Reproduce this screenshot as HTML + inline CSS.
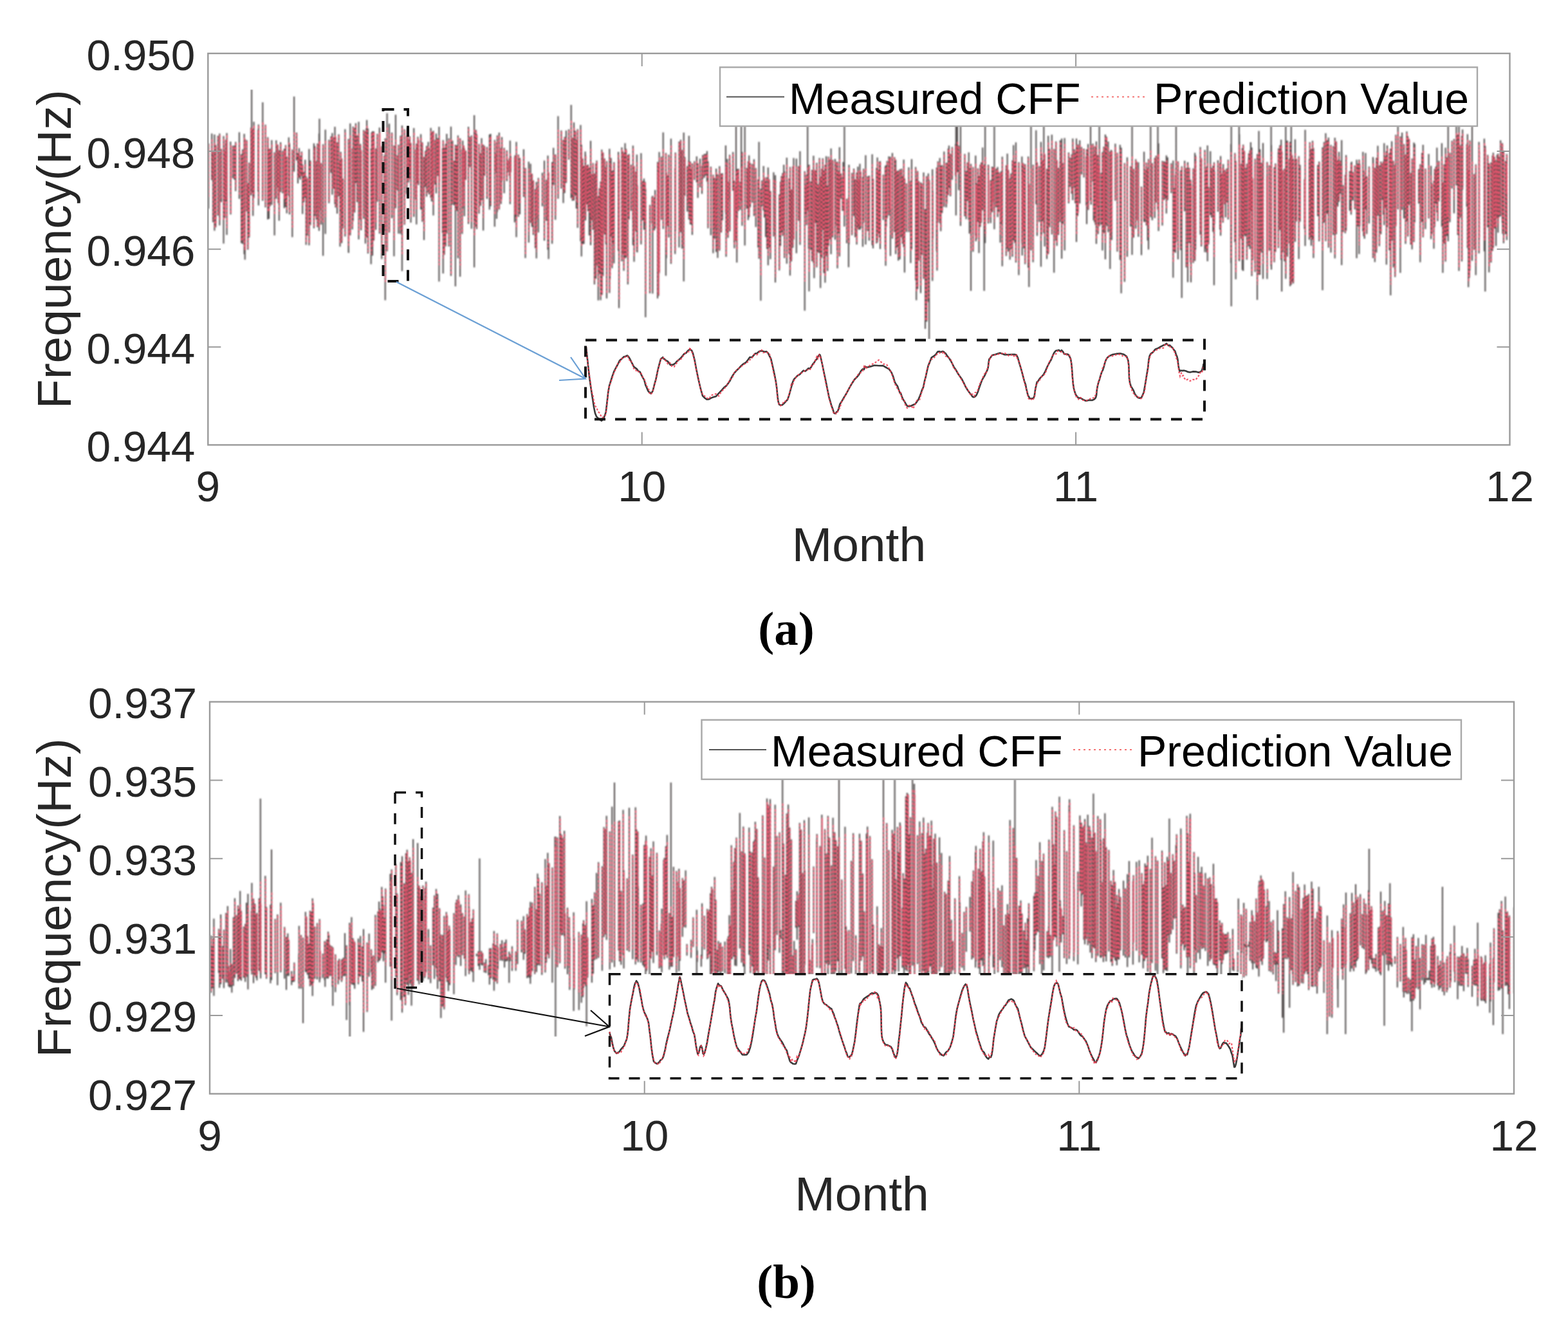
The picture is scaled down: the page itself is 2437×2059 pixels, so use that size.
<!DOCTYPE html>
<html><head><meta charset="utf-8"><title>Measured CFF vs Prediction Value</title><style>
html,body{margin:0;padding:0;background:#fff;}
svg{display:block;}
.tk{font-family:'Liberation Sans', Arial, Helvetica, sans-serif;font-size:67.5px;fill:#262626;}
.lab{font-family:'Liberation Sans', Arial, Helvetica, sans-serif;font-size:75px;fill:#262626;}
.lg{font-family:'Liberation Sans', Arial, Helvetica, sans-serif;font-size:68px;fill:#000;}
.blk{fill:none;stroke:#404040;stroke-width:2.8;stroke-linejoin:round;}
.red{fill:none;stroke:#ee3a55;stroke-width:2.6;stroke-dasharray:3.6 2.6;}
.iblk{fill:none;stroke:#3a3a3a;stroke-width:2.6;stroke-linejoin:round;}
.ired{fill:none;stroke:#f03c50;stroke-width:2.2;stroke-dasharray:3 2.5;opacity:.85;}
.thin{fill:none;stroke:#3c3c3c;stroke-width:2;}
.core{fill:none;stroke:#6c6464;}
.redc{fill:none;stroke:#f2506c;stroke-dasharray:3.3 3.1;}
.sblk{fill:none;stroke:#524e4e;stroke-width:2.1;}
.sred{fill:none;stroke:#f25470;stroke-width:2.0;stroke-dasharray:3.2 3.2;}
.cap{font-family:'Liberation Serif', 'Times New Roman', serif;font-size:75px;font-weight:bold;fill:#000;}
</style></head>
<body><svg width="2437" height="2059" viewBox="0 0 2437 2059">
<rect width="2437" height="2059" fill="#fff"/>
<defs><clipPath id="ca"><rect x="323.3" y="83.0" width="2023.2" height="608.4"/></clipPath><filter id="soft" x="0" y="0" width="1" height="1"><feGaussianBlur stdDeviation="1.25"/></filter><clipPath id="cb"><rect x="326.0" y="1090.6" width="2027.0" height="609.1000000000001"/></clipPath></defs>
<g clip-path="url(#ca)"><g filter="url(#soft)"><path d="M323.9 222.9V324.2M329.2 207.6V279.7M331.0 235.8V345.3M333.4 209.0V358.4M335.2 225.5V353.3M338.7 211.1V335.1M341.3 207.5V350.2M343.9 231.5V313.9M347.5 211.4V378.4M347.9 226.2V328.9M349.3 234.6V338.7M350.8 217.6V313.1M352.5 206.8V364.9M358.5 235.1V333.2M358.3 220.0V304.7M361.8 226.4V277.1M364.3 226.2V279.1M366.2 220.4V296.9M371.9 205.6V309.1M375.1 239.8V377.7M377.1 232.3V378.9M379.6 208.0V394.9M380.7 216.1V403.6M383.5 217.7V328.2M385.2 284.7V388.0M387.2 252.7V368.9M390.1 198.5V303.5M391.1 139.0V299.2M393.2 200.4V335.5M394.5 189.3V308.1M401.2 201.7V297.2M401.8 193.6V319.3M408.3 159.0V303.8M408.2 186.5V312.0M412.5 193.7V322.2M416.2 213.3V340.9M416.3 224.6V315.7M418.0 231.6V340.1M419.8 231.2V320.5M422.3 217.7V318.3M426.6 236.8V365.8M429.3 218.0V308.8M431.6 224.7V291.6M432.5 243.4V315.4M433.8 233.4V342.9M436.1 220.9V298.4M439.3 234.4V300.3M441.8 234.0V323.4M441.8 231.3V311.6M443.9 225.5V321.6M445.7 243.4V331.6M448.8 213.5V304.0M450.0 222.4V333.3M454.3 232.4V368.4M457.1 150.0V266.8M460.9 206.0V249.3M463.0 237.9V284.9M464.9 230.3V276.1M466.6 242.3V279.0M468.8 235.6V273.4M470.2 255.8V332.6M472.1 267.6V314.2M474.3 248.2V307.0M475.7 273.9V380.5M477.4 276.7V366.0M480.4 231.5V381.2M482.3 249.4V349.7M487.9 222.8V354.8M489.3 227.3V335.5M491.8 250.6V341.3M493.4 223.0V352.9M495.9 207.6V358.7M496.5 184.4V327.4M499.1 253.6V349.0M502.1 224.3V397.6M505.7 201.4V363.6M511.3 217.2V315.8M514.5 212.1V268.6M516.4 206.7V302.6M518.9 213.4V293.1M520.5 197.0V317.1M521.5 212.4V322.4M524.0 221.3V332.0M526.5 208.8V304.9M528.5 249.4V383.2M529.6 235.9V328.2M531.1 246.3V377.8M532.8 277.7V355.1M536.3 200.8V367.4M541.8 226.7V393.1M541.6 215.9V391.8M544.3 191.7V365.8M547.6 230.9V356.6M548.7 196.8V343.6M551.2 198.7V330.3M552.9 191.4V284.3M555.1 210.4V314.1M557.5 189.3V372.1M560.1 223.8V340.9M561.2 233.1V357.8M565.2 202.1V339.8M567.9 204.1V378.4M569.2 199.7V295.2M570.1 186.5V368.8M571.9 199.7V394.0M576.7 231.1V410.6M577.6 205.8V358.7M579.0 204.0V397.2M581.0 218.7V373.7M580.9 204.2V358.3M584.1 230.7V356.9M586.4 207.9V313.4M589.8 198.3V312.9M589.9 205.4V363.0M593.3 227.2V402.6M597.4 241.9V359.0M598.7 215.0V466.4M601.6 176.0V390.6M605.0 192.3V361.2M609.0 205.9V338.9M612.4 226.1V398.2M614.9 178.3V323.4M617.6 241.5V295.4M619.4 224.9V363.1M622.5 211.1V363.6M624.9 195.1V421.3M628.7 201.0V349.3M632.3 211.2V301.5M633.5 198.5V270.9M634.8 216.5V283.5M636.8 211.6V277.7M638.5 222.3V345.9M643.2 199.0V337.0M646.3 232.4V309.9M647.3 223.3V348.8M649.4 212.5V284.2M650.3 216.7V287.5M654.1 208.6V325.5M656.3 220.9V344.6M659.0 244.1V372.9M661.2 234.6V290.2M663.0 226.7V305.6M665.6 220.4V298.9M666.9 230.2V302.1M669.6 198.8V307.3M670.9 206.7V312.9M672.0 204.9V306.5M673.5 203.3V334.7M676.3 217.5V286.8M677.9 207.5V300.4M680.2 214.7V273.3M682.7 218.0V283.3M682.4 197.0V437.4M687.9 230.7V361.9M688.7 217.8V425.0M690.5 229.9V396.0M692.6 223.7V382.8M694.3 208.1V362.9M697.6 215.0V382.9M700.9 196.8V428.8M703.3 218.6V318.1M705.9 250.0V318.9M707.8 224.9V445.0M709.8 226.1V327.5M711.8 210.6V401.3M715.1 214.9V429.9M718.3 232.4V363.5M719.2 218.5V323.5M720.7 226.1V288.5M721.7 230.5V335.9M723.8 234.2V279.4M728.0 196.9V347.9M730.3 212.4V259.5M732.8 210.6V355.5M737.1 179.0V415.4M738.4 207.3V343.1M739.7 201.7V352.4M740.9 208.5V355.9M744.5 223.7V331.9M746.9 238.2V319.7M748.5 214.8V311.1M751.1 224.7V358.3M753.0 226.8V273.1M756.9 228.6V309.0M760.8 208.9V325.7M762.5 208.0V320.4M768.8 217.6V352.3M769.5 237.8V268.8M771.9 221.6V340.1M772.8 210.5V329.3M775.8 205.9V325.5M776.0 217.6V308.3M778.6 230.0V316.9M779.2 230.6V310.3M780.0 213.1V281.4M783.6 229.7V300.2M787.6 233.9V280.7M787.8 233.8V281.5M789.2 249.0V267.5M791.7 246.0V273.2M793.7 242.8V268.0M792.8 218.5V317.2M799.9 244.3V345.4M800.5 241.6V337.2M802.5 220.6V368.4M805.7 240.3V337.0M808.0 245.4V333.0M813.9 232.1V306.1M816.5 260.9V401.1M821.7 251.3V343.3M821.8 284.2V377.0M824.6 254.5V346.2M826.8 270.1V352.4M828.8 280.3V365.1M831.9 294.1V385.6M833.7 282.8V401.6M833.9 293.8V338.5M836.4 289.1V341.6M836.7 276.4V361.3M842.9 268.4V320.4M846.0 249.5V374.1M849.1 279.4V343.0M852.6 267.7V402.4M851.5 241.7V387.9M858.1 252.1V378.8M860.2 229.8V287.6M863.2 240.0V341.6M867.4 180.4V308.7M872.3 202.8V292.9M875.5 217.6V315.4M877.6 212.7V299.9M879.9 202.8V284.2M884.0 201.0V247.9M887.7 163.1V307.8M889.7 213.9V312.0M892.0 190.3V311.5M894.3 203.3V304.2M895.8 217.2V324.1M897.7 200.7V353.9M902.4 194.3V374.7M903.7 224.9V398.5M905.4 246.5V379.5M907.5 257.9V379.0M910.0 240.7V342.4M909.6 235.6V327.5M911.9 257.1V317.7M913.9 255.8V327.9M915.8 260.5V365.7M918.0 218.8V381.0M919.5 270.7V342.0M921.6 253.4V357.1M923.9 269.7V442.1M926.1 254.3V432.9M927.4 249.6V413.3M929.8 304.8V466.8M931.5 292.7V425.7M933.5 282.2V466.4M935.6 244.5V458.3M935.3 232.4V405.7M937.2 236.9V428.9M939.6 246.2V364.3M941.8 260.2V379.5M942.9 250.5V463.8M947.3 231.2V455.3M948.0 280.7V434.1M949.6 245.6V367.5M951.3 265.8V416.7M952.7 264.9V378.9M954.3 251.9V409.2M961.1 236.0V389.4M962.0 247.5V478.7M966.4 229.1V406.1M969.5 237.5V420.8M967.7 234.9V394.9M971.5 222.6V401.6M973.1 231.6V399.9M975.8 241.1V441.9M977.5 239.5V341.1M980.8 256.1V327.5M983.8 226.3V381.0M983.5 300.0V341.9M985.5 258.2V406.8M988.3 266.8V359.4M989.8 240.3V391.0M990.4 288.0V392.3M996.4 238.1V379.8M999.0 281.4V342.4M1000.9 277.5V357.0M1002.6 282.6V347.1M1003.3 293.2V493.0M1010.0 318.4V455.8M1013.4 305.9V346.9M1014.3 304.2V456.3M1016.9 307.3V357.9M1018.1 295.3V355.0M1022.1 251.7V425.1M1022.0 269.1V463.7M1023.5 253.2V459.7M1024.6 236.3V424.6M1028.0 243.4V341.4M1030.7 205.7V355.7M1034.9 237.8V428.4M1035.6 267.9V401.2M1037.3 272.8V351.2M1039.4 240.5V369.0M1042.9 215.4V409.9M1049.2 261.5V394.8M1049.7 237.0V358.8M1055.5 220.0V384.5M1057.9 217.3V360.8M1060.1 233.1V386.3M1062.7 205.9V437.3M1064.3 244.1V304.2M1068.2 258.2V328.7M1070.4 249.4V316.3M1070.8 210.9V341.1M1072.8 251.1V348.5M1074.0 263.0V349.0M1075.9 258.9V365.0M1075.9 253.9V304.9M1079.3 250.5V279.5M1082.8 242.9V283.2M1084.6 254.0V307.5M1088.0 246.5V291.0M1091.0 257.9V301.3M1092.1 240.9V278.0M1094.6 239.5V276.2M1096.6 239.0V272.7M1098.9 234.8V282.3M1100.4 250.7V354.8M1104.8 258.9V365.4M1108.4 271.5V393.5M1110.5 276.5V371.1M1111.8 279.4V353.8M1113.1 261.9V391.6M1115.4 271.0V400.7M1118.3 258.2V389.4M1121.0 269.8V361.2M1122.7 269.3V342.2M1127.9 225.9V330.6M1128.5 260.5V399.0M1130.4 246.9V361.8M1131.5 282.4V369.5M1134.3 254.0V359.5M1134.0 240.6V310.7M1139.2 236.3V296.2M1141.1 281.0V376.8M1141.4 290.7V385.8M1144.0 196.0V374.6M1145.2 272.3V408.1M1145.8 262.8V339.6M1147.7 262.2V327.7M1150.5 282.6V326.0M1152.1 196.0V312.3M1153.4 236.2V350.7M1157.6 196.0V381.5M1160.7 261.0V324.2M1162.8 250.8V341.9M1164.2 241.6V337.4M1165.9 253.5V322.1M1169.1 254.8V314.7M1171.9 247.4V335.6M1174.7 261.3V352.8M1178.2 278.9V384.5M1179.6 220.6V402.1M1182.4 293.6V467.2M1184.1 280.4V320.4M1186.7 257.9V326.9M1188.1 275.5V338.0M1190.1 282.1V368.3M1191.3 275.4V346.0M1192.0 296.3V386.8M1193.8 260.3V412.2M1195.4 278.6V384.7M1197.4 297.0V402.8M1202.4 267.8V367.6M1205.0 272.3V439.1M1211.2 302.2V420.2M1213.0 282.6V381.9M1214.5 273.7V360.9M1216.4 269.0V366.5M1218.2 256.1V358.0M1219.2 266.3V400.9M1222.8 245.0V409.8M1226.4 277.5V394.4M1227.9 259.5V428.3M1230.0 294.5V406.2M1232.2 258.8V384.9M1233.5 245.5V372.3M1237.8 246.6V393.5M1241.2 258.3V343.1M1243.4 235.0V380.5M1250.7 266.0V482.7M1252.0 286.9V332.8M1253.6 271.5V349.7M1255.2 196.0V327.2M1256.8 283.1V386.6M1257.5 256.1V452.8M1260.3 282.0V388.2M1262.0 263.9V405.8M1264.4 242.1V408.4M1265.4 263.3V432.2M1267.6 265.0V346.4M1269.3 253.1V415.5M1271.3 286.5V392.3M1273.6 245.5V393.2M1275.2 274.5V447.5M1277.1 262.3V400.7M1278.7 246.0V357.2M1280.5 265.0V424.2M1282.4 256.2V439.3M1284.1 242.7V397.4M1286.2 288.8V421.1M1287.6 243.4V381.9M1290.1 247.9V371.8M1291.6 230.7V395.1M1294.2 248.4V361.5M1294.0 263.7V368.7M1297.9 247.0V372.5M1300.4 251.6V350.9M1301.1 277.7V389.1M1301.5 251.6V417.1M1303.5 266.1V362.2M1304.8 228.7V398.4M1307.0 269.7V308.8M1309.5 275.4V327.6M1310.5 251.7V327.6M1312.3 266.5V351.9M1312.4 196.0V339.1M1316.0 309.0V378.1M1318.9 307.0V415.2M1319.5 256.0V379.5M1324.1 268.7V365.4M1327.0 262.1V335.5M1329.1 278.8V368.6M1331.5 268.2V380.1M1333.3 258.9V352.9M1334.4 278.4V356.4M1336.4 254.4V357.0M1337.6 266.9V354.8M1340.9 275.3V383.6M1342.1 262.3V346.1M1345.4 241.2V380.0M1348.5 274.1V358.9M1350.8 273.1V374.0M1355.6 239.8V381.0M1356.9 277.9V386.0M1362.3 260.9V378.3M1363.6 244.7V376.4M1364.9 264.2V363.1M1366.9 251.3V369.1M1368.0 250.6V386.9M1372.8 271.6V341.7M1375.8 259.1V386.7M1376.5 257.1V413.1M1377.4 271.4V352.4M1378.6 250.2V339.3M1381.4 243.1V334.8M1383.5 247.0V327.2M1383.9 243.7V397.8M1386.9 237.7V370.7M1390.3 244.2V360.6M1392.1 248.2V394.7M1394.0 265.8V384.3M1396.2 265.3V404.9M1398.6 263.0V403.1M1401.2 262.2V368.7M1402.8 274.0V378.8M1404.6 248.1V383.9M1405.9 277.4V423.5M1408.8 284.9V360.4M1412.4 260.1V360.5M1415.4 281.2V408.8M1416.9 247.2V387.4M1423.8 278.1V334.7M1423.1 259.6V435.2M1424.2 286.5V466.4M1426.1 265.8V449.1M1428.0 281.5V405.0M1431.0 283.6V455.4M1432.6 284.9V396.1M1435.5 267.9V433.3M1438.0 324.9V511.0M1440.1 273.8V499.7M1442.8 269.5V469.0M1444.1 279.7V527.0M1449.6 297.0V370.3M1449.2 262.9V436.6M1456.4 300.7V420.5M1455.7 260.6V390.3M1457.7 250.8V345.5M1460.7 245.5V346.8M1462.2 257.5V359.2M1464.2 256.8V330.9M1467.3 235.5V321.6M1470.7 253.1V322.3M1471.5 253.3V316.6M1473.7 231.0V303.3M1474.9 226.2V292.1M1477.2 239.1V305.1M1479.8 228.6V279.3M1485.8 195.5V334.8M1485.1 224.1V272.4M1487.9 196.0V267.6M1490.1 226.2V295.4M1492.9 196.0V351.0M1499.4 239.3V336.1M1501.6 265.9V340.5M1503.5 252.6V311.9M1505.7 236.8V341.6M1506.7 261.4V363.0M1509.0 254.7V452.0M1512.4 259.7V391.3M1516.7 287.3V375.0M1516.3 241.8V365.2M1517.7 285.0V371.6M1519.8 261.8V344.5M1521.5 273.4V393.3M1523.5 256.0V352.5M1525.0 252.6V345.9M1527.2 229.3V326.4M1529.6 256.3V452.0M1531.1 196.0V377.8M1536.0 255.9V347.3M1536.2 256.4V341.2M1539.7 280.0V346.8M1542.3 282.4V328.2M1541.9 259.1V329.7M1543.1 259.7V314.6M1545.4 196.0V356.2M1548.2 262.3V321.9M1550.5 259.6V337.3M1552.0 267.6V329.6M1554.6 268.9V376.9M1555.5 266.4V348.0M1557.7 243.4V413.8M1563.8 256.9V397.7M1565.6 238.7V386.1M1567.1 263.9V391.0M1569.6 277.4V403.6M1571.1 269.7V386.9M1573.5 249.2V399.1M1575.2 225.6V373.6M1575.8 258.7V343.2M1577.3 251.4V377.5M1578.9 221.2V408.0M1583.4 252.0V427.4M1588.3 243.3V377.5M1588.7 269.1V397.1M1590.3 253.4V358.6M1591.4 261.0V385.9M1593.2 255.1V410.5M1598.1 243.3V416.1M1599.3 285.6V446.0M1602.4 196.0V389.0M1605.6 262.8V407.6M1605.7 256.0V370.6M1610.3 202.5V317.2M1611.9 252.5V366.6M1615.1 258.3V344.7M1617.9 220.4V414.5M1618.7 239.1V365.3M1620.4 249.3V343.4M1622.3 196.0V362.0M1623.6 239.6V383.0M1627.0 262.4V402.4M1629.2 210.9V394.8M1631.2 231.6V353.1M1634.8 209.3V364.3M1638.2 231.5V423.7M1641.2 219.7V374.0M1642.6 248.7V381.9M1645.0 260.9V364.9M1647.5 251.4V345.1M1650.1 215.2V401.9M1647.8 218.1V331.5M1651.8 253.6V347.9M1654.7 239.4V389.3M1654.6 214.6V335.7M1660.9 237.0V316.1M1663.3 245.0V290.2M1665.7 240.0V300.9M1667.3 215.2V311.1M1669.9 232.1V291.7M1671.1 237.6V315.7M1673.0 215.3V376.1M1674.9 229.5V335.6M1675.5 224.5V330.2M1678.2 217.9V316.3M1681.0 228.4V270.9M1684.6 230.9V275.7M1688.3 243.3V319.5M1689.0 232.1V348.3M1691.1 223.8V315.5M1691.4 242.5V326.3M1695.0 196.0V311.9M1695.7 224.5V318.1M1698.6 223.3V281.9M1699.7 240.4V342.5M1701.4 227.6V345.8M1702.6 239.6V349.6M1703.9 219.8V379.0M1706.0 241.0V320.6M1706.6 256.7V363.8M1708.6 196.0V351.5M1711.5 268.8V349.0M1713.4 236.4V389.3M1715.1 245.3V352.5M1715.5 228.1V362.2M1717.9 209.0V403.0M1719.8 212.6V351.2M1722.4 220.1V360.8M1725.3 235.4V418.0M1726.9 233.0V368.5M1727.8 234.3V373.0M1733.4 223.2V311.7M1736.5 237.5V391.0M1740.8 225.1V403.7M1742.6 229.5V455.8M1747.8 253.5V438.1M1751.9 244.6V398.9M1757.2 258.6V352.1M1759.5 196.0V396.1M1761.9 262.6V369.3M1765.2 247.6V355.2M1766.6 251.2V342.8M1769.3 252.3V368.0M1774.0 290.0V396.4M1778.1 235.7V344.5M1779.2 263.4V345.0M1781.7 252.7V350.3M1783.7 261.6V373.7M1785.0 247.2V387.8M1788.3 196.0V337.4M1790.8 253.5V342.2M1794.7 245.4V338.7M1796.7 242.1V315.1M1799.5 196.0V325.6M1800.6 222.8V358.9M1806.5 249.9V350.6M1809.1 250.8V310.8M1811.2 251.7V308.8M1812.8 241.5V331.8M1814.7 244.4V311.1M1820.3 253.7V300.1M1823.3 249.5V431.5M1825.0 292.6V390.9M1826.8 272.1V392.7M1827.6 261.4V376.2M1827.9 196.0V374.0M1830.9 250.8V403.1M1835.1 264.7V388.4M1836.7 258.6V463.0M1841.2 249.8V328.2M1843.6 261.0V415.5M1846.0 252.0V438.5M1848.4 260.8V377.6M1850.4 279.4V407.8M1851.0 286.8V438.7M1854.5 261.8V408.7M1857.1 237.4V405.6M1858.1 241.4V387.7M1865.5 228.4V364.4M1867.1 245.8V383.0M1872.5 233.1V391.8M1873.7 264.7V386.4M1875.3 259.0V392.3M1876.7 226.1V406.0M1878.3 290.7V379.8M1881.2 235.0V333.9M1882.9 260.9V338.1M1885.3 257.8V360.3M1887.4 265.7V348.7M1886.9 252.2V443.3M1892.9 248.9V329.0M1896.1 253.7V356.5M1897.1 242.6V366.3M1899.3 270.2V337.4M1900.7 260.4V345.9M1901.2 254.9V306.6M1903.4 264.3V317.4M1904.8 267.0V337.8M1906.4 261.9V314.5M1908.8 248.3V340.9M1913.7 196.0V476.0M1913.2 224.0V408.7M1919.3 237.7V376.3M1920.6 250.3V433.9M1926.2 208.7V405.8M1925.8 196.0V404.7M1929.2 254.6V371.0M1932.2 224.7V421.0M1930.8 230.3V419.4M1933.9 234.6V365.3M1935.5 261.2V367.2M1937.8 254.5V403.6M1940.4 247.3V382.8M1940.8 238.5V356.3M1942.6 233.8V387.0M1943.9 220.9V327.9M1945.5 229.3V428.9M1946.7 276.8V404.1M1950.4 257.7V407.3M1950.6 246.7V422.6M1954.0 239.5V465.9M1956.5 203.6V427.1M1958.2 231.9V427.1M1960.5 252.9V392.6M1962.2 277.7V373.9M1963.0 222.3V433.6M1969.1 274.1V396.4M1969.4 251.8V433.5M1972.8 257.1V389.6M1975.6 196.0V413.2M1976.0 225.6V418.9M1980.5 260.0V407.6M1982.3 254.1V391.6M1986.8 237.0V385.2M1987.0 230.8V334.5M1989.2 225.7V357.6M1991.2 217.1V403.7M1992.1 235.2V453.0M1993.5 264.5V391.9M1996.4 262.2V406.0M1998.3 196.0V433.3M1999.3 219.7V381.6M2000.7 218.4V399.0M2003.8 247.6V378.3M2005.0 220.4V375.0M2005.1 271.2V444.8M2006.8 196.0V442.4M2008.1 241.2V437.5M2010.0 247.2V440.4M2012.9 216.6V375.8M2014.8 246.9V344.2M2018.6 242.7V402.6M2020.5 256.2V344.4M2027.5 278.8V355.7M2028.5 201.8V382.3M2035.7 221.1V369.1M2034.9 247.4V372.5M2037.9 231.5V381.7M2040.0 218.7V372.4M2041.4 230.1V400.9M2048.0 256.5V335.8M2050.2 250.9V374.9M2055.5 229.0V451.0M2057.8 220.7V346.1M2060.4 206.9V374.7M2062.7 218.1V332.3M2064.8 213.7V384.7M2068.5 225.3V392.6M2072.2 227.3V365.0M2074.7 213.9V401.5M2076.8 219.8V363.9M2077.2 243.2V306.6M2079.1 249.3V321.0M2081.1 236.1V313.4M2082.9 249.6V300.8M2085.2 217.8V411.9M2087.7 287.8V360.4M2090.8 271.7V362.4M2092.1 241.0V358.4M2099.9 253.2V333.4M2097.8 266.0V327.4M2100.7 251.2V311.0M2102.7 267.4V311.5M2105.6 257.3V297.2M2105.7 265.9V325.3M2108.5 248.3V401.2M2110.2 254.5V351.5M2113.2 254.8V351.4M2112.4 247.9V394.8M2118.3 235.9V359.6M2119.4 265.6V366.9M2120.7 276.7V371.0M2122.4 237.7V325.4M2124.2 274.1V363.5M2127.8 258.8V347.3M2134.2 247.3V338.8M2133.9 244.1V401.1M2136.8 260.8V407.3M2138.2 262.9V366.9M2139.3 245.2V392.4M2141.4 226.6V335.0M2143.8 257.0V382.6M2146.2 251.0V363.9M2148.6 253.8V310.5M2150.1 250.7V333.6M2151.3 222.4V349.7M2153.4 242.7V323.6M2154.8 234.9V411.3M2156.0 226.0V353.0M2159.5 237.9V388.9M2161.2 231.0V383.7M2161.3 238.9V458.9M2163.1 219.4V373.7M2165.6 249.9V415.6M2168.2 256.6V430.6M2169.3 209.4V352.1M2172.7 196.0V325.2M2176.4 211.9V424.0M2176.4 225.8V324.3M2179.1 206.0V326.0M2182.1 224.1V339.6M2184.5 240.2V378.9M2186.4 204.2V344.1M2188.1 211.8V367.4M2190.0 216.1V318.4M2192.6 268.8V379.9M2194.6 246.4V387.6M2197.5 221.4V375.9M2198.7 223.7V345.7M2205.0 263.1V316.3M2207.3 255.3V407.5M2210.0 237.8V345.1M2211.7 225.1V368.8M2215.4 261.9V355.9M2220.5 239.2V339.6M2224.1 257.7V371.4M2225.4 285.1V363.6M2228.5 281.3V386.6M2229.7 262.8V352.5M2231.6 259.1V316.2M2233.3 229.4V330.0M2234.4 263.0V343.6M2236.3 250.0V313.1M2240.9 222.5V352.2M2242.4 283.7V423.9M2244.4 255.6V378.4M2246.6 229.4V406.5M2248.6 248.0V366.6M2248.8 244.8V338.6M2250.7 196.0V375.0M2253.4 237.5V345.3M2256.6 218.8V292.8M2259.9 216.1V331.4M2263.5 196.0V288.1M2265.7 209.3V365.1M2267.5 196.0V420.9M2269.4 225.4V338.3M2272.0 211.3V406.3M2273.1 201.3V294.8M2279.7 224.2V321.3M2280.8 208.4V385.2M2282.2 264.3V446.2M2283.6 226.7V431.8M2284.4 218.3V420.2M2288.0 196.0V405.2M2291.2 270.6V388.0M2293.7 255.5V427.4M2298.6 220.5V393.8M2298.9 234.3V371.7M2306.9 215.4V390.4M2308.3 226.7V453.0M2312.2 240.8V353.2M2314.3 254.0V423.2M2317.4 252.4V408.1M2319.6 241.8V390.0M2320.8 237.3V384.7M2322.6 243.7V354.8M2324.1 248.5V355.0M2325.1 251.2V382.2M2326.8 240.5V338.9M2328.3 238.7V361.6M2329.9 243.8V337.6M2332.2 217.9V335.9M2334.9 222.6V346.0M2335.4 241.5V363.2M2336.9 234.7V377.9M2339.8 250.2V363.9M2341.8 239.4V373.0M2341.4 254.6V304.9M2348.0 230.4V338.9" class="sblk"/><path d="M324.4 225.4V305.7M329.7 216.9V276.7M331.5 238.3V342.3M333.9 222.6V353.0M335.7 228.0V350.3M339.2 213.6V332.1M341.8 210.4V344.7M344.4 234.0V310.9M348.0 216.2V343.9M348.4 228.7V325.9M349.8 237.1V335.7M351.3 220.1V310.1M353.0 210.7V353.8M359.0 237.6V330.2M358.8 226.3V279.5M362.3 228.9V274.1M364.8 228.7V276.1M366.7 222.9V293.9M372.4 222.1V302.3M375.6 242.3V374.7M377.6 234.8V375.9M380.1 214.5V387.7M381.2 218.7V388.0M384.0 220.2V325.2M385.7 287.2V385.0M387.7 255.2V365.9M390.6 201.0V300.5M391.6 198.8V296.2M393.7 202.9V325.9M395.0 195.8V300.6M401.7 204.2V294.2M402.3 196.1V311.4M408.8 191.0V300.8M408.7 190.5V309.0M413.0 196.2V319.2M416.7 215.8V330.9M416.8 229.3V312.7M418.5 234.1V330.2M420.3 233.7V317.5M422.8 225.2V315.3M427.1 239.3V335.5M429.8 223.8V305.8M432.1 227.2V288.6M433.0 245.9V312.4M434.3 235.9V332.8M436.6 224.6V295.4M439.8 236.9V297.3M442.3 236.5V309.2M442.3 233.8V308.6M444.4 228.0V318.6M446.2 245.9V325.3M449.3 221.8V301.0M450.5 230.0V330.3M454.8 234.9V355.3M457.6 205.9V253.0M461.4 208.5V246.3M463.5 240.4V276.5M465.4 236.6V273.1M467.1 244.8V276.0M469.3 238.1V270.4M470.7 258.3V320.0M472.6 270.1V311.2M474.8 256.0V304.0M476.2 276.4V377.5M477.9 279.2V363.0M480.9 258.4V377.9M482.8 251.9V346.7M488.4 233.4V351.5M489.8 229.8V332.5M492.3 253.1V338.3M493.9 225.5V349.9M496.4 221.5V353.0M497.0 219.8V324.4M499.6 256.1V346.0M502.6 226.8V348.1M506.2 219.4V336.4M511.8 219.7V312.8M515.0 214.6V265.6M516.9 212.8V293.0M519.4 215.9V290.1M521.0 210.9V314.1M522.0 214.9V319.4M524.5 223.8V321.9M527.0 211.3V301.9M529.0 251.9V377.1M530.1 238.7V325.2M531.6 248.8V374.8M533.3 280.2V352.1M536.8 206.4V364.4M542.3 229.2V374.1M542.1 218.4V384.9M544.8 210.7V362.8M548.1 233.4V353.6M549.2 199.3V330.9M551.7 201.2V327.3M553.4 195.2V281.3M555.6 212.9V311.1M558.0 207.9V365.3M560.6 226.3V337.9M561.7 235.6V354.8M565.7 204.6V336.8M568.4 206.6V371.3M569.7 202.2V292.2M570.6 195.9V365.8M572.4 210.1V391.0M577.2 233.6V394.9M578.1 208.3V355.7M579.5 206.5V382.8M581.5 221.2V370.7M581.4 206.7V355.3M584.6 233.2V346.6M586.9 210.4V310.4M590.3 206.8V309.9M590.4 210.4V360.0M593.8 229.7V393.7M597.9 244.4V356.0M599.2 217.5V437.7M602.1 198.8V387.6M605.5 208.4V358.2M609.5 208.4V335.9M612.9 228.6V373.5M615.4 217.4V320.4M618.1 244.0V292.4M619.9 227.4V356.0M623.0 213.6V360.6M625.4 199.4V394.5M629.2 203.5V346.3M632.8 213.7V291.2M634.0 210.7V267.9M635.3 219.0V280.5M637.3 214.1V274.7M639.0 224.8V338.8M643.7 206.8V334.0M646.8 234.9V306.9M647.8 225.8V324.8M649.9 215.6V281.2M650.8 219.2V284.5M654.6 214.8V322.5M656.8 223.4V341.6M659.5 246.6V360.0M661.7 237.1V287.2M663.5 229.2V301.1M666.1 227.8V295.9M667.4 232.7V299.1M670.1 204.3V304.3M671.4 209.2V309.9M672.5 207.4V303.5M674.0 205.8V318.7M676.8 220.0V283.8M678.4 217.1V290.6M680.7 217.2V270.3M683.2 220.5V280.3M682.9 210.7V411.7M688.4 233.2V358.9M689.2 220.3V401.1M691.0 232.4V393.0M693.1 226.2V379.8M694.8 219.9V359.9M698.1 217.5V379.9M701.4 217.0V425.0M703.8 224.0V315.1M706.4 252.5V315.9M708.3 227.4V328.0M710.3 228.6V324.5M712.3 214.0V398.3M715.6 217.4V416.5M718.8 234.9V360.5M719.7 225.8V320.5M721.2 228.6V285.5M722.2 233.0V321.7M724.3 236.7V276.4M728.5 200.6V344.9M730.8 214.9V256.5M733.3 213.1V347.6M737.6 202.0V367.2M738.9 209.8V340.1M740.2 204.2V349.4M741.4 211.0V352.9M745.0 226.2V328.9M747.4 240.7V316.7M749.0 223.3V308.1M751.6 227.2V337.9M753.5 229.3V270.1M757.4 231.1V306.0M761.3 214.5V310.5M763.0 213.1V317.4M769.3 220.1V333.0M770.0 240.3V265.8M772.4 224.1V327.4M773.3 213.0V326.3M776.3 211.2V322.5M776.5 225.5V305.3M779.1 232.5V313.7M779.7 233.1V307.3M780.5 217.7V278.4M784.1 232.2V284.0M788.1 236.4V277.7M788.3 244.4V272.8M789.7 251.5V264.5M792.2 248.5V270.2M794.2 245.3V265.0M793.3 239.1V314.2M800.4 246.8V333.1M801.0 244.1V334.2M803.0 228.0V356.5M806.2 242.8V334.0M808.5 247.9V316.8M814.4 243.6V303.1M817.0 263.4V393.9M822.2 262.4V340.3M822.3 286.7V364.6M825.1 268.9V343.2M827.3 272.6V349.4M829.3 282.8V362.1M832.4 296.6V382.6M834.2 287.8V391.0M834.4 296.3V335.5M836.9 291.6V338.6M837.2 278.9V324.4M843.4 273.4V317.4M846.5 263.6V371.1M849.6 281.9V340.0M853.1 270.2V371.7M852.0 247.4V383.5M858.6 254.6V375.8M860.7 241.0V284.6M863.7 242.5V334.1M867.9 201.9V304.7M872.8 205.3V289.9M876.0 220.1V298.1M878.1 215.2V296.9M880.4 214.4V281.2M884.5 203.5V244.9M888.2 188.1V302.8M890.2 216.4V309.0M892.5 199.3V308.5M894.8 205.8V301.2M896.3 219.7V315.5M898.2 203.2V350.9M902.9 202.1V369.8M904.2 231.2V382.5M905.9 249.0V376.5M908.0 260.4V376.0M910.5 243.2V339.4M910.1 258.2V324.5M912.4 259.6V314.7M914.4 258.3V324.9M916.3 263.0V331.3M918.5 231.7V375.5M920.0 273.2V339.0M922.1 255.9V354.1M924.4 272.2V439.1M926.6 256.8V429.9M927.9 252.2V410.3M930.3 307.3V447.9M932.0 295.2V422.7M934.0 284.7V460.1M936.1 253.7V455.3M935.8 235.9V402.7M937.7 239.4V417.8M940.1 248.7V361.3M942.3 262.7V376.5M943.4 253.0V455.4M947.8 240.5V452.3M948.5 283.2V427.1M950.1 255.7V364.5M951.8 268.3V413.7M953.2 267.4V375.9M954.8 254.4V395.9M961.6 241.2V386.4M962.5 250.0V466.7M966.9 233.1V403.1M970.0 240.0V417.8M968.2 237.4V391.9M972.0 233.0V398.6M973.6 234.1V396.9M976.3 243.6V437.1M978.0 242.0V338.1M981.3 258.6V324.5M984.3 231.2V371.8M984.0 302.5V338.9M986.0 260.7V397.5M988.8 269.3V356.4M990.3 252.4V388.0M990.9 290.5V387.0M996.9 248.4V376.8M999.5 283.9V339.4M1001.4 283.6V347.4M1003.1 285.1V344.1M1003.8 305.8V456.3M1010.5 320.9V452.8M1013.9 308.4V343.9M1014.8 306.7V363.5M1017.4 309.8V354.9M1018.6 302.7V352.0M1022.6 254.2V422.1M1022.5 271.6V458.5M1024.0 255.7V456.7M1025.1 245.3V421.6M1028.5 245.9V338.4M1031.2 232.2V352.7M1035.4 240.3V384.5M1036.1 270.4V397.7M1037.8 275.3V348.2M1039.9 244.5V366.0M1043.4 226.6V406.9M1049.7 264.0V391.8M1050.2 239.5V355.8M1056.0 222.7V369.1M1058.4 219.8V357.8M1060.6 235.6V383.3M1063.2 219.6V403.0M1064.8 248.3V301.2M1068.7 260.7V319.6M1070.9 251.9V313.3M1071.3 252.5V338.1M1073.3 253.6V345.5M1074.5 265.5V346.0M1076.4 261.4V359.0M1076.4 256.4V280.3M1079.8 253.0V276.5M1083.3 250.6V280.2M1085.1 256.5V301.1M1088.5 255.1V288.0M1091.5 260.4V298.3M1092.6 243.4V275.0M1095.1 242.0V273.2M1097.1 241.5V269.7M1099.4 241.0V275.5M1100.9 254.4V351.8M1105.3 261.4V353.8M1108.9 274.0V388.7M1111.0 279.0V368.1M1112.3 281.9V350.8M1113.6 268.1V388.6M1115.9 273.5V390.1M1118.8 262.4V386.4M1121.5 272.3V358.2M1123.2 271.8V327.8M1128.4 252.6V327.6M1129.0 263.0V394.2M1130.9 253.7V358.8M1132.0 284.9V366.5M1134.8 256.5V356.5M1134.5 243.1V294.9M1139.7 239.9V293.2M1141.6 283.5V373.8M1141.9 293.2V382.8M1144.5 266.8V371.6M1145.7 274.8V390.2M1146.3 265.3V327.2M1148.2 264.7V324.7M1151.0 285.1V323.0M1152.6 260.9V309.3M1153.9 238.7V347.7M1158.1 237.2V358.6M1161.2 263.5V321.2M1163.3 253.3V336.2M1164.7 250.0V334.4M1166.4 256.0V319.1M1169.6 257.3V311.7M1172.4 251.8V332.6M1175.2 263.8V340.0M1178.7 281.4V381.5M1180.1 275.3V399.1M1182.9 296.1V430.0M1184.6 282.9V317.4M1187.2 268.7V323.9M1188.6 278.0V335.0M1190.6 284.6V337.7M1191.8 277.9V343.0M1192.5 298.8V383.8M1194.3 271.9V399.9M1195.9 281.1V381.7M1197.9 299.5V394.0M1202.9 280.0V364.6M1205.5 281.6V430.1M1211.7 304.7V417.2M1213.5 285.1V366.2M1215.0 276.2V357.9M1216.9 271.5V363.5M1218.7 269.6V355.0M1219.7 268.8V397.9M1223.3 256.6V400.3M1226.9 280.0V391.4M1228.4 262.0V420.3M1230.5 297.0V403.2M1232.7 261.3V381.9M1234.0 257.5V369.3M1238.3 259.4V358.7M1241.7 260.8V340.1M1243.9 257.0V377.5M1251.2 268.5V437.0M1252.5 289.4V329.8M1254.1 274.0V346.7M1255.7 261.0V324.2M1257.3 285.6V366.6M1258.0 258.6V423.2M1260.8 284.5V385.2M1262.5 266.4V402.8M1264.9 250.0V405.4M1265.9 265.8V415.0M1268.1 267.5V343.4M1269.8 256.2V412.5M1271.8 289.0V389.3M1274.1 248.4V390.2M1275.7 277.0V430.6M1277.6 264.8V397.7M1279.2 248.5V354.2M1281.0 267.5V421.2M1282.9 258.7V429.9M1284.6 253.4V394.4M1286.7 291.3V418.1M1288.1 245.9V378.9M1290.6 250.4V368.8M1292.1 241.4V379.8M1294.7 250.9V358.5M1294.5 266.2V365.7M1298.4 252.1V367.6M1300.9 254.1V347.9M1301.6 280.2V386.1M1302.0 254.1V411.3M1304.0 268.6V359.2M1305.3 247.9V395.4M1307.5 272.2V305.8M1310.0 277.9V324.6M1311.0 259.4V324.6M1312.8 269.0V334.5M1312.9 278.8V336.1M1316.5 311.5V375.1M1319.4 309.5V378.2M1320.0 260.9V365.7M1324.6 271.2V362.4M1327.5 264.6V332.5M1329.6 281.3V365.6M1332.0 270.7V375.3M1333.8 266.3V349.9M1334.9 280.9V353.4M1336.9 264.9V354.0M1338.1 269.4V351.8M1341.4 277.8V370.7M1342.6 264.8V343.1M1345.9 262.6V366.0M1349.0 276.6V355.9M1351.3 275.6V371.0M1356.1 255.6V373.5M1357.4 280.4V380.4M1362.8 264.2V375.3M1364.1 251.7V373.4M1365.4 266.7V360.1M1367.4 253.8V366.1M1368.5 253.1V379.9M1373.3 274.1V338.7M1376.3 261.6V383.7M1377.0 261.1V407.8M1377.9 273.9V340.1M1379.1 252.7V336.3M1381.9 247.2V331.8M1384.0 249.5V324.2M1384.4 246.2V367.9M1387.4 243.7V367.7M1390.8 246.7V357.6M1392.6 263.8V391.7M1394.5 268.3V381.3M1396.7 267.8V400.8M1399.1 265.5V400.1M1401.7 264.7V365.7M1403.3 276.5V375.8M1405.1 254.7V380.9M1406.4 279.9V397.5M1409.3 287.4V357.4M1412.9 265.4V357.5M1415.9 283.7V392.4M1417.4 263.7V375.8M1424.3 280.6V331.7M1423.6 262.7V432.2M1424.7 289.0V453.6M1426.6 268.3V446.1M1428.5 284.0V402.0M1431.5 286.1V444.6M1433.1 287.4V393.1M1436.0 275.0V430.3M1438.5 327.4V497.1M1440.6 276.3V496.7M1443.3 274.5V466.0M1444.6 283.9V374.1M1450.1 299.5V367.3M1449.7 273.9V430.3M1456.9 303.2V417.5M1456.2 263.1V359.1M1458.2 253.3V342.5M1461.2 253.0V343.8M1462.7 260.0V356.2M1464.7 259.3V327.8M1467.8 241.0V318.6M1471.2 255.6V319.3M1472.0 255.8V304.6M1474.2 233.5V300.3M1475.4 232.6V289.1M1477.7 241.6V302.1M1480.3 231.1V276.3M1486.3 230.3V284.3M1485.6 226.6V269.4M1488.4 220.8V264.6M1490.6 228.7V273.1M1493.4 239.0V343.6M1499.9 241.8V333.1M1502.1 268.4V337.5M1504.0 255.1V308.9M1506.2 251.5V338.6M1507.2 263.9V346.6M1509.5 257.7V390.5M1512.9 262.2V388.3M1517.2 289.8V372.0M1516.8 254.9V362.2M1518.2 287.5V368.6M1520.3 264.3V341.5M1522.0 275.9V374.0M1524.0 258.5V349.5M1525.5 255.1V342.9M1527.7 249.7V323.4M1530.1 258.8V355.4M1531.6 244.5V366.8M1536.5 258.4V344.3M1536.7 273.7V338.2M1540.2 282.5V339.3M1542.8 284.9V325.2M1542.4 261.6V326.7M1543.6 262.2V311.6M1545.9 260.2V344.4M1548.7 264.8V318.9M1551.0 264.6V334.3M1552.5 270.1V326.6M1555.1 271.4V366.1M1556.0 268.9V345.0M1558.2 248.3V403.6M1564.3 259.4V394.7M1566.1 256.2V383.1M1567.6 266.4V388.0M1570.1 279.9V397.2M1571.6 272.2V383.9M1574.0 251.7V394.1M1575.7 241.7V370.6M1576.3 261.2V340.2M1577.8 253.9V374.5M1579.4 234.8V405.0M1583.9 254.5V420.1M1588.8 253.8V374.5M1589.2 271.6V386.8M1590.8 255.9V355.6M1591.9 263.5V382.9M1593.7 257.6V407.5M1598.6 246.4V408.3M1599.8 288.1V421.3M1602.9 262.6V386.0M1606.1 265.3V404.6M1606.2 258.5V364.9M1610.8 231.2V314.2M1612.4 255.0V363.6M1615.6 260.8V341.7M1618.4 229.6V373.9M1619.2 241.6V362.3M1620.9 251.8V340.4M1622.8 238.0V359.0M1624.1 242.1V368.7M1627.5 264.9V395.9M1629.7 221.9V391.8M1631.7 234.1V350.1M1635.3 219.2V361.3M1638.7 234.0V387.9M1641.7 222.2V371.0M1643.1 251.2V378.9M1645.5 263.4V361.9M1648.0 253.9V342.1M1650.6 232.0V387.0M1648.3 222.0V328.5M1652.3 256.1V344.9M1655.2 241.9V372.2M1655.1 224.3V328.8M1661.4 239.5V313.1M1663.8 247.5V287.2M1666.2 242.5V297.9M1667.8 221.4V300.3M1670.4 234.6V288.7M1671.6 240.1V312.7M1673.5 225.5V364.2M1675.4 232.0V332.6M1676.0 227.0V327.2M1678.7 225.4V274.4M1681.5 230.9V267.9M1685.1 233.4V272.7M1688.8 245.8V316.5M1689.5 234.6V325.3M1691.6 230.0V312.5M1691.9 245.0V323.3M1695.5 225.7V308.9M1696.2 227.0V315.1M1699.1 225.8V278.9M1700.2 242.9V333.5M1701.9 230.1V342.8M1703.1 242.1V346.6M1704.4 226.1V372.3M1706.5 243.5V317.6M1707.1 259.2V360.8M1709.1 232.2V348.5M1712.0 271.3V346.0M1713.9 238.9V376.1M1715.6 247.8V349.5M1716.0 230.6V359.2M1718.4 213.9V380.6M1720.3 215.1V348.2M1722.9 230.2V357.8M1725.8 237.9V391.0M1727.4 235.5V365.5M1728.3 236.8V359.3M1733.9 229.3V308.7M1737.0 240.0V388.0M1741.3 232.6V398.8M1743.1 239.6V444.8M1748.3 256.0V435.1M1752.4 251.4V388.7M1757.7 261.1V349.1M1760.0 243.7V371.4M1762.4 265.1V366.3M1765.7 250.1V352.2M1767.1 253.7V339.8M1769.8 263.4V365.0M1774.5 292.5V378.6M1778.6 252.3V341.5M1779.7 265.9V342.0M1782.2 255.2V347.3M1784.2 264.1V353.8M1785.5 249.7V370.8M1788.8 234.4V334.4M1791.3 256.0V339.2M1795.2 247.9V327.9M1797.2 244.6V312.1M1800.0 241.2V322.6M1801.1 239.9V354.4M1807.0 252.4V347.6M1809.6 253.3V307.8M1811.7 254.2V305.8M1813.3 249.6V323.1M1815.2 254.5V307.1M1820.8 256.2V297.1M1823.8 262.5V407.8M1825.5 295.1V387.9M1827.3 274.6V389.7M1828.1 263.9V373.2M1828.4 250.6V371.0M1831.4 253.3V388.8M1835.6 267.2V385.4M1837.2 261.1V340.1M1841.7 254.4V325.2M1844.1 263.5V412.5M1846.5 256.9V417.5M1848.9 263.3V374.6M1850.9 281.9V404.8M1851.5 289.3V430.6M1855.0 264.3V405.7M1857.6 254.1V402.6M1858.6 243.9V371.4M1866.0 232.8V361.4M1867.6 248.3V380.0M1873.0 236.7V380.7M1874.2 267.2V383.4M1875.8 261.5V389.3M1877.2 254.4V391.8M1878.8 293.2V376.8M1881.7 255.2V330.9M1883.4 263.4V335.1M1885.8 260.3V351.4M1887.9 268.2V345.7M1887.4 254.7V398.7M1893.4 253.8V326.0M1896.6 256.2V353.5M1897.6 248.5V361.0M1899.8 272.7V334.4M1901.2 262.9V342.9M1901.7 261.2V303.6M1903.9 266.8V314.4M1905.3 269.5V316.6M1906.9 264.4V311.5M1909.3 250.8V337.9M1914.2 248.0V349.5M1913.7 237.1V403.8M1919.8 240.2V373.3M1921.1 252.8V425.4M1926.7 224.7V402.8M1926.3 226.5V401.7M1929.7 257.1V368.0M1932.7 227.2V402.0M1931.3 233.3V406.0M1934.4 237.1V362.3M1936.0 263.7V364.2M1938.3 257.0V400.6M1940.9 249.8V379.8M1941.3 241.0V353.3M1943.1 236.3V380.1M1944.4 233.4V324.9M1946.0 245.1V425.3M1947.2 279.3V401.1M1950.9 260.2V404.3M1951.1 249.2V419.6M1954.5 242.0V441.8M1957.0 236.9V424.1M1958.7 242.1V415.2M1961.0 255.4V389.6M1962.7 280.2V370.9M1963.5 246.0V410.3M1969.6 276.6V393.4M1969.9 254.3V422.9M1973.3 259.6V386.6M1976.1 248.0V410.2M1976.5 236.6V409.7M1981.0 262.5V404.6M1982.8 256.6V387.8M1987.3 244.5V382.2M1987.5 233.3V331.5M1989.7 228.2V354.6M1991.7 226.7V400.7M1992.6 237.7V402.9M1994.0 267.0V388.9M1996.9 264.7V403.0M1998.8 248.5V427.5M1999.8 222.2V378.6M2001.2 222.2V384.5M2004.3 250.1V375.3M2005.5 222.9V372.0M2005.6 273.7V440.9M2007.3 239.2V439.4M2008.6 243.7V434.5M2010.5 249.7V437.4M2013.4 238.5V372.8M2015.3 249.4V341.2M2019.1 245.2V384.2M2021.0 265.5V341.4M2028.0 281.3V352.6M2029.0 220.5V366.3M2036.2 223.6V366.1M2035.4 249.9V369.5M2038.4 234.0V371.5M2040.5 222.1V369.4M2041.9 236.1V393.1M2048.5 259.0V332.8M2050.7 253.4V371.9M2056.0 232.5V388.4M2058.3 223.2V343.1M2060.9 215.5V371.4M2063.2 220.6V329.3M2065.3 220.8V381.7M2069.0 227.8V384.0M2072.7 229.8V362.0M2075.2 219.2V394.8M2077.3 222.3V360.9M2077.7 245.7V303.6M2079.6 251.8V311.5M2081.6 243.6V310.4M2083.4 252.1V297.8M2085.7 258.0V400.4M2088.2 290.3V357.4M2091.3 274.2V359.4M2092.6 244.8V353.2M2100.4 255.7V330.4M2098.3 268.5V310.4M2101.2 256.9V308.0M2103.2 269.9V308.5M2106.1 259.8V294.2M2106.2 268.4V322.3M2109.0 256.3V352.9M2110.7 257.0V348.5M2113.7 257.3V348.4M2112.9 250.4V380.5M2118.8 242.7V356.6M2119.9 268.1V363.9M2121.2 279.2V367.5M2122.9 264.9V322.4M2124.7 276.6V360.5M2128.3 261.3V338.5M2134.7 254.1V335.8M2134.4 255.8V398.1M2137.3 263.3V403.3M2138.7 265.4V363.9M2139.8 247.7V387.0M2141.9 237.2V332.0M2144.3 259.5V379.6M2146.7 253.5V360.9M2149.1 256.3V307.5M2150.6 253.2V330.6M2151.8 237.5V343.1M2153.9 245.2V320.6M2155.3 237.4V402.6M2156.5 231.5V350.0M2160.0 240.4V385.9M2161.7 233.5V380.7M2161.8 241.4V441.7M2163.6 228.8V370.7M2166.1 252.4V412.6M2168.7 259.1V427.6M2169.8 211.9V349.1M2173.2 205.3V322.2M2176.9 214.4V385.2M2176.9 228.3V321.3M2179.6 215.5V323.0M2182.6 226.6V323.1M2185.0 242.7V375.6M2186.9 207.7V341.1M2188.6 214.3V364.4M2190.5 218.6V315.4M2193.1 271.3V376.9M2195.1 248.9V382.8M2198.0 229.6V372.9M2199.2 244.9V335.9M2205.5 265.6V313.3M2207.8 257.8V397.0M2210.5 240.3V342.1M2212.2 234.9V365.8M2215.9 264.4V345.1M2221.0 257.6V336.6M2224.6 273.2V368.4M2225.9 287.6V360.6M2229.0 283.8V379.0M2230.2 265.3V349.2M2232.1 261.6V313.2M2233.8 253.1V327.0M2234.9 265.5V340.6M2236.8 252.5V310.1M2241.4 243.8V341.5M2242.9 286.2V409.4M2244.9 258.1V375.4M2247.1 239.5V403.5M2249.1 250.5V363.6M2249.3 247.3V335.6M2251.2 231.6V366.3M2253.9 240.0V342.3M2257.1 221.3V289.8M2260.4 218.6V309.8M2264.0 207.2V285.1M2266.2 211.8V362.1M2268.0 206.6V416.0M2269.9 227.9V335.3M2272.5 213.8V403.3M2273.6 208.3V291.8M2280.2 226.7V314.2M2281.3 218.1V382.2M2282.7 266.8V439.8M2284.1 229.2V428.8M2284.9 220.8V417.2M2288.5 251.8V397.7M2291.7 273.1V385.0M2294.2 258.0V412.6M2299.1 225.7V390.8M2299.4 236.8V368.7M2307.4 223.0V375.2M2308.8 233.1V371.8M2312.7 243.3V350.2M2314.8 256.5V414.0M2317.9 254.9V405.1M2320.1 244.3V387.0M2321.3 241.1V381.7M2323.1 246.2V351.8M2324.6 251.0V352.0M2325.6 253.7V352.9M2327.3 245.6V335.9M2328.8 241.2V350.4M2330.4 246.3V334.6M2332.7 222.9V332.9M2335.4 225.1V343.0M2335.9 244.0V360.2M2337.4 238.3V373.9M2340.3 252.7V360.9M2342.3 241.9V370.0M2341.9 257.1V301.9M2348.5 237.7V320.2" class="sred"/></g></g>
<g clip-path="url(#cb)"><g filter="url(#soft)"><path d="M327.9 1453.7V1542.7M329.7 1470.4V1535.8M331.3 1457.9V1535.2M332.4 1427.4V1547.4M340.0 1443.6V1511.7M341.2 1451.4V1534.9M343.1 1420.9V1529.2M346.1 1470.1V1520.9M347.9 1444.7V1535.5M351.2 1418.8V1526.7M353.8 1408.0V1526.7M355.3 1500.7V1532.7M357.0 1510.3V1534.4M358.2 1474.7V1533.2M360.3 1498.2V1542.5M362.7 1425.5V1531.9M364.9 1395.8V1519.7M367.5 1422.3V1513.1M369.9 1407.0V1524.5M372.0 1412.4V1521.3M373.2 1384.6V1521.7M374.8 1415.4V1523.9M378.7 1440.0V1519.4M379.1 1449.0V1517.7M381.2 1435.8V1525.7M383.0 1402.8V1518.1M385.4 1388.9V1537.6M390.7 1415.8V1508.2M391.4 1371.9V1514.3M394.0 1396.6V1527.8M396.2 1404.2V1515.6M398.0 1420.9V1519.2M399.3 1418.7V1523.6M402.7 1396.1V1508.6M404.8 1241.0V1513.1M405.1 1404.3V1520.6M412.3 1361.0V1513.9M414.1 1409.6V1520.9M420.4 1406.1V1528.0M422.0 1320.0V1523.1M427.6 1428.0V1512.3M431.3 1421.1V1531.0M436.3 1402.7V1511.0M436.3 1415.8V1508.0M442.2 1440.6V1520.7M445.0 1456.1V1538.3M447.3 1450.5V1516.5M448.7 1460.6V1516.5M453.2 1508.9V1530.8M454.9 1518.1V1525.9M456.9 1516.2V1525.3M457.3 1512.0V1525.5M457.3 1495.8V1512.4M464.4 1482.7V1527.4M464.8 1438.8V1536.3M467.9 1452.9V1536.2M471.0 1457.2V1590.0M474.8 1417.0V1510.3M476.2 1424.2V1510.7M477.8 1454.7V1514.4M479.9 1466.8V1521.0M481.8 1415.2V1532.5M483.9 1416.8V1530.7M485.7 1396.1V1547.7M486.7 1403.4V1527.2M489.3 1440.0V1521.1M492.9 1434.5V1522.0M496.7 1428.3V1526.6M497.4 1477.1V1521.4M501.6 1481.9V1519.7M505.3 1463.7V1533.5M504.5 1462.6V1523.0M507.9 1459.9V1520.4M510.0 1447.7V1520.4M511.2 1453.0V1517.2M512.9 1468.5V1516.0M515.4 1469.9V1516.8M517.3 1472.1V1563.1M516.5 1472.7V1533.2M521.3 1482.9V1541.8M525.6 1493.0V1529.4M527.2 1490.1V1522.8M530.9 1491.8V1525.8M531.6 1490.4V1522.8M533.7 1488.2V1516.7M536.0 1449.9V1516.8M538.6 1468.9V1585.0M543.3 1434.1V1562.0M543.7 1443.0V1611.0M546.4 1425.3V1529.4M548.6 1458.0V1530.1M549.4 1460.9V1530.6M551.2 1463.4V1536.5M556.9 1458.4V1529.5M558.1 1469.3V1517.0M560.1 1454.5V1517.5M563.1 1470.7V1525.2M565.0 1443.8V1603.4M570.6 1467.6V1572.4M570.5 1464.8V1510.5M573.6 1450.8V1517.7M577.0 1475.2V1510.9M578.0 1486.6V1538.3M580.5 1484.8V1536.2M583.4 1421.7V1532.1M587.4 1416.6V1495.6M589.1 1401.1V1493.1M590.1 1412.1V1492.6M591.5 1414.9V1489.2M593.3 1378.3V1479.2M594.8 1393.0V1480.5M595.9 1406.8V1493.7M597.7 1426.6V1481.7M599.2 1380.7V1526.9M606.6 1358.0V1502.0M608.6 1351.1V1586.0M615.2 1342.7V1518.6M617.2 1388.5V1546.5M622.9 1339.7V1554.1M625.0 1330.4V1573.6M628.0 1372.8V1549.2M630.0 1373.6V1562.1M630.8 1325.9V1523.2M632.7 1320.5V1530.0M634.8 1338.5V1545.9M636.6 1332.3V1514.2M637.5 1337.5V1528.8M639.5 1356.4V1562.7M642.1 1304.0V1534.5M642.3 1430.6V1529.8M648.8 1437.3V1524.0M649.1 1310.0V1521.7M651.3 1375.9V1529.6M652.6 1379.9V1516.1M655.0 1392.6V1525.1M657.3 1376.1V1524.8M660.3 1397.1V1519.8M660.7 1380.2V1517.3M662.1 1370.1V1510.9M665.9 1443.7V1521.7M669.2 1468.9V1527.7M672.9 1410.5V1500.1M675.1 1391.6V1521.2M677.9 1381.4V1504.1M678.9 1418.7V1517.0M680.1 1389.0V1536.8M683.1 1411.4V1525.0M685.3 1452.2V1582.1M687.7 1464.8V1564.3M688.1 1453.0V1562.3M690.3 1423.4V1568.6M693.7 1417.3V1518.9M694.8 1422.5V1525.8M696.8 1447.1V1540.1M698.1 1438.6V1527.9M699.0 1444.8V1530.8M705.4 1419.1V1544.9M708.5 1402.8V1499.4M709.8 1398.0V1485.8M712.5 1391.3V1486.6M713.2 1399.3V1487.5M716.1 1405.5V1501.0M718.6 1419.1V1484.2M721.7 1424.5V1489.8M723.6 1383.7V1516.7M728.6 1389.6V1507.6M729.1 1409.6V1513.8M731.4 1432.8V1508.4M733.6 1427.5V1510.3M735.6 1413.3V1526.0M735.4 1477.9V1485.4M740.8 1482.1V1485.9M743.5 1478.2V1500.9M745.4 1334.0V1506.9M748.2 1477.8V1499.6M750.0 1481.0V1500.3M752.6 1495.8V1510.9M755.2 1490.5V1511.9M759.3 1499.9V1515.4M760.8 1473.8V1529.9M763.0 1473.6V1520.3M766.4 1466.3V1522.5M767.8 1446.7V1539.6M770.0 1468.4V1525.1M772.7 1450.5V1528.4M773.8 1471.7V1506.3M777.6 1467.1V1492.7M780.2 1461.0V1491.7M781.2 1472.3V1493.2M784.1 1464.5V1503.6M786.5 1460.0V1492.7M786.4 1484.8V1494.0M788.6 1487.1V1493.3M791.3 1478.8V1527.3M792.9 1482.5V1493.6M795.9 1470.6V1508.8M801.6 1478.5V1508.6M804.3 1429.2V1498.3M810.8 1436.9V1479.9M810.6 1430.8V1479.7M813.7 1423.7V1491.6M815.7 1444.2V1481.9M819.3 1420.5V1519.9M820.9 1424.7V1518.4M823.0 1410.7V1519.6M824.3 1401.6V1528.7M825.2 1409.5V1517.4M827.2 1402.6V1508.9M831.2 1378.2V1513.8M833.9 1413.1V1510.5M835.5 1357.6V1499.9M836.9 1364.3V1498.8M838.8 1389.0V1500.5M842.2 1371.1V1514.9M847.4 1335.0V1511.3M849.1 1376.6V1495.8M851.3 1325.2V1482.8M853.2 1341.1V1489.3M858.4 1348.1V1527.0M862.5 1300.3V1471.5M863.4 1300.0V1611.0M866.3 1301.3V1502.9M870.1 1268.0V1496.7M871.1 1295.3V1449.0M872.8 1297.3V1453.3M874.3 1302.1V1453.1M877.1 1291.0V1455.2M878.1 1418.7V1505.2M882.0 1410.6V1514.0M884.8 1425.2V1504.2M885.3 1456.7V1538.2M891.6 1417.8V1570.9M892.4 1456.6V1537.6M899.8 1466.0V1569.4M899.6 1448.3V1543.3M903.6 1452.6V1558.2M906.0 1435.0V1549.4M907.0 1430.0V1535.1M909.3 1437.6V1528.9M910.4 1463.3V1532.6M911.6 1400.6V1594.8M913.2 1456.5V1519.2M919.9 1396.9V1527.0M922.0 1407.2V1513.1M924.1 1386.8V1491.8M927.1 1356.5V1490.4M930.1 1339.8V1488.5M935.9 1346.2V1508.4M938.6 1285.3V1456.2M940.3 1288.3V1452.1M942.7 1267.7V1460.4M947.7 1292.0V1506.6M951.2 1253.5V1495.8M955.0 1216.0V1502.8M961.5 1276.3V1477.1M962.9 1275.0V1493.9M965.3 1384.6V1499.3M968.5 1258.4V1483.8M969.5 1352.6V1505.0M974.7 1365.0V1477.0M977.9 1255.3V1479.0M983.3 1328.1V1490.5M987.7 1254.5V1498.8M989.3 1289.0V1491.6M991.2 1291.9V1489.1M991.9 1377.1V1495.2M996.0 1406.0V1495.8M999.2 1404.2V1500.0M1001.2 1313.3V1502.9M1003.4 1306.8V1516.7M1004.1 1298.4V1509.4M1005.0 1313.3V1508.3M1009.5 1331.7V1555.5M1011.6 1318.3V1489.4M1013.7 1360.8V1479.1M1015.5 1307.4V1496.6M1020.9 1325.2V1484.2M1024.6 1446.0V1504.8M1025.1 1448.5V1504.6M1027.7 1435.7V1503.1M1028.5 1412.0V1511.0M1031.5 1336.3V1484.7M1032.6 1333.2V1490.7M1034.8 1314.9V1483.4M1036.8 1297.4V1488.4M1040.3 1419.1V1506.7M1042.8 1216.0V1502.2M1044.8 1425.1V1502.3M1046.8 1347.0V1487.3M1051.4 1353.6V1512.0M1052.4 1370.0V1487.0M1052.3 1376.4V1485.2M1055.3 1350.0V1509.2M1056.8 1379.9V1493.1M1060.7 1364.4V1455.7M1062.9 1368.0V1440.5M1065.6 1352.6V1441.6M1067.6 1466.9V1485.1M1074.1 1460.4V1488.5M1077.3 1425.4V1471.6M1082.8 1413.8V1515.8M1083.6 1477.0V1494.7M1089.9 1483.7V1502.3M1091.1 1403.7V1490.0M1094.7 1422.9V1475.4M1099.2 1412.5V1490.4M1100.5 1417.1V1489.0M1102.5 1413.6V1482.8M1104.2 1388.2V1524.9M1105.9 1378.1V1518.1M1107.3 1381.5V1511.2M1110.7 1362.8V1517.1M1112.4 1398.2V1534.0M1115.0 1476.0V1511.9M1116.5 1462.3V1510.6M1119.2 1466.8V1509.2M1119.9 1464.8V1515.3M1122.7 1471.1V1509.7M1126.6 1463.3V1512.5M1130.6 1459.0V1545.3M1131.8 1454.9V1546.9M1133.5 1422.3V1543.5M1134.9 1439.0V1555.9M1136.7 1313.4V1490.2M1137.7 1382.7V1490.4M1140.4 1339.5V1486.8M1142.2 1318.1V1500.6M1144.5 1301.4V1501.3M1149.8 1263.2V1473.7M1152.5 1323.0V1495.7M1155.3 1284.5V1502.1M1157.3 1325.7V1528.5M1157.7 1327.7V1458.8M1164.3 1286.0V1483.8M1166.3 1323.4V1511.9M1169.2 1324.8V1501.5M1171.1 1308.1V1527.4M1172.6 1305.4V1512.4M1173.8 1277.0V1518.9M1176.2 1288.1V1508.4M1178.2 1363.2V1501.2M1178.4 1366.1V1544.6M1185.9 1412.9V1517.6M1185.3 1266.9V1519.4M1188.4 1332.5V1515.0M1192.0 1240.8V1533.4M1192.1 1244.9V1471.7M1194.1 1250.6V1492.8M1196.5 1255.3V1472.5M1197.0 1241.8V1533.9M1202.2 1346.8V1527.9M1204.7 1250.5V1476.4M1207.6 1299.2V1452.7M1211.5 1293.6V1480.5M1211.2 1457.5V1461.1M1213.3 1444.9V1459.0M1215.8 1455.6V1458.6M1216.2 1210.5V1512.4M1217.7 1311.1V1544.5M1220.6 1359.5V1530.1M1222.7 1264.2V1529.9M1223.6 1309.1V1522.8M1225.1 1250.2V1522.2M1227.3 1285.9V1543.9M1229.9 1304.5V1516.2M1229.8 1484.7V1537.1M1232.4 1484.8V1546.3M1234.2 1462.3V1535.8M1237.1 1475.2V1536.8M1236.9 1399.9V1441.6M1238.8 1384.9V1460.2M1241.1 1398.4V1440.5M1241.8 1389.5V1440.5M1242.8 1278.8V1564.5M1245.1 1289.2V1528.5M1247.3 1356.5V1521.9M1250.0 1274.6V1530.3M1250.7 1352.9V1500.1M1257.1 1270.3V1533.0M1257.0 1478.8V1512.1M1259.0 1491.7V1517.6M1262.1 1468.1V1544.3M1262.8 1459.6V1515.2M1264.5 1346.4V1450.1M1269.4 1304.8V1468.5M1269.7 1296.1V1503.4M1274.4 1314.8V1504.4M1277.3 1270.5V1540.9M1277.3 1266.1V1557.2M1282.0 1288.4V1551.7M1284.5 1326.4V1497.4M1286.8 1267.8V1530.9M1289.0 1301.4V1499.2M1292.1 1345.0V1531.8M1294.6 1270.8V1516.4M1297.2 1293.2V1514.8M1299.2 1305.8V1509.2M1301.9 1315.2V1493.7M1304.0 1211.0V1544.0M1308.2 1366.7V1519.9M1313.4 1284.8V1505.4M1314.9 1439.6V1539.7M1315.9 1446.8V1545.2M1319.4 1445.3V1538.1M1323.0 1337.7V1512.7M1326.1 1294.7V1493.4M1330.1 1453.5V1523.1M1335.3 1465.5V1513.2M1335.9 1295.6V1510.8M1338.4 1306.6V1493.0M1340.9 1357.6V1486.5M1343.3 1416.2V1525.8M1346.7 1295.4V1517.3M1348.3 1317.4V1519.2M1348.2 1284.6V1511.9M1352.0 1299.3V1559.7M1355.3 1335.2V1511.7M1357.1 1436.9V1538.2M1363.3 1408.5V1543.5M1366.0 1467.6V1524.7M1367.9 1469.9V1516.4M1369.7 1442.2V1532.8M1370.9 1471.3V1524.1M1373.0 1211.0V1508.0M1378.1 1278.9V1522.2M1381.4 1320.9V1523.2M1386.6 1289.5V1515.1M1388.3 1295.7V1507.5M1390.6 1211.0V1531.1M1391.9 1366.3V1508.7M1394.8 1285.0V1489.6M1396.6 1324.5V1509.7M1398.7 1278.0V1485.6M1399.2 1281.8V1486.1M1402.5 1410.7V1504.1M1403.6 1356.9V1501.7M1405.1 1380.7V1518.2M1405.9 1365.5V1501.1M1407.8 1237.6V1507.3M1409.8 1232.0V1509.3M1411.2 1234.0V1498.5M1413.1 1297.1V1519.8M1415.0 1270.1V1517.9M1418.2 1207.9V1500.4M1421.3 1234.0V1597.2M1421.0 1218.1V1502.0M1426.0 1298.1V1498.0M1429.3 1276.5V1511.0M1432.8 1294.7V1522.6M1437.0 1326.9V1519.8M1435.3 1270.5V1508.8M1438.8 1319.1V1534.8M1442.5 1278.7V1512.1M1441.3 1294.2V1520.2M1443.2 1300.2V1511.3M1445.3 1298.5V1501.7M1447.6 1275.3V1502.0M1448.1 1344.0V1533.7M1450.4 1380.5V1517.8M1451.3 1303.6V1514.5M1453.5 1295.4V1524.3M1456.0 1340.5V1518.4M1460.1 1301.3V1509.6M1463.3 1325.6V1502.7M1468.1 1385.7V1523.3M1470.5 1389.3V1515.2M1473.6 1368.5V1531.3M1475.9 1330.3V1514.7M1478.6 1429.3V1525.1M1480.9 1462.5V1507.8M1484.2 1432.8V1509.3M1484.1 1396.0V1515.2M1491.0 1361.5V1532.6M1491.7 1402.5V1501.9M1495.2 1449.7V1503.8M1498.4 1417.1V1508.5M1501.8 1409.2V1479.1M1507.5 1393.8V1447.4M1510.4 1369.7V1491.0M1512.8 1352.8V1488.4M1516.1 1324.2V1503.5M1516.8 1314.4V1494.0M1520.6 1349.9V1504.8M1522.9 1374.8V1526.8M1523.3 1319.0V1490.7M1525.4 1354.2V1492.6M1527.5 1307.7V1501.1M1528.8 1293.3V1483.1M1530.1 1361.9V1535.6M1536.8 1298.3V1520.2M1537.9 1385.7V1485.6M1543.7 1306.3V1503.3M1545.6 1410.9V1514.6M1551.0 1380.1V1511.1M1554.2 1384.3V1492.0M1557.4 1375.7V1502.9M1560.1 1438.0V1533.8M1563.1 1421.3V1526.3M1565.8 1405.1V1526.2M1567.6 1420.2V1515.3M1569.7 1274.3V1513.6M1574.6 1286.7V1526.6M1574.5 1338.9V1512.2M1577.4 1211.0V1531.6M1580.0 1333.0V1518.1M1583.8 1407.8V1518.8M1585.0 1408.2V1512.5M1586.4 1399.2V1512.7M1588.3 1419.8V1513.4M1591.2 1446.0V1505.0M1593.5 1433.8V1503.8M1595.2 1461.0V1515.6M1597.0 1427.0V1502.6M1598.9 1403.7V1541.6M1606.9 1392.4V1509.3M1608.5 1387.3V1477.1M1610.4 1336.4V1453.1M1612.5 1386.5V1447.3M1613.4 1360.9V1448.3M1616.1 1308.8V1498.2M1619.2 1338.1V1573.5M1621.9 1326.5V1494.3M1622.2 1383.9V1507.7M1630.3 1304.7V1485.3M1627.4 1447.2V1487.6M1629.8 1439.8V1489.0M1632.4 1453.1V1487.0M1635.4 1433.3V1522.2M1635.4 1253.7V1478.0M1637.3 1312.0V1461.1M1638.7 1344.2V1455.0M1640.4 1261.1V1456.2M1642.4 1269.3V1470.7M1646.5 1238.0V1509.9M1647.8 1399.2V1455.0M1649.2 1411.6V1464.5M1651.8 1423.4V1451.7M1654.0 1290.0V1489.1M1657.8 1322.8V1498.0M1661.7 1251.7V1490.2M1662.2 1242.0V1481.3M1668.9 1282.5V1493.4M1669.2 1380.4V1479.9M1675.2 1354.6V1498.5M1678.4 1267.3V1384.6M1680.5 1279.9V1408.4M1680.8 1278.5V1392.1M1683.1 1285.8V1389.9M1684.6 1283.2V1460.2M1686.0 1272.8V1467.5M1687.9 1309.0V1459.2M1690.2 1312.7V1449.9M1690.6 1266.1V1468.8M1693.3 1283.4V1465.6M1694.5 1290.5V1480.2M1697.2 1301.8V1489.0M1699.4 1233.2V1472.3M1701.5 1294.1V1473.9M1703.2 1322.4V1495.1M1706.3 1267.9V1485.6M1710.1 1273.0V1487.5M1711.0 1305.4V1488.5M1713.6 1370.8V1486.8M1714.9 1303.0V1495.0M1717.3 1263.8V1485.9M1719.2 1316.5V1493.9M1723.3 1320.8V1478.5M1726.6 1368.8V1494.8M1728.7 1375.8V1500.9M1730.6 1352.1V1488.0M1733.0 1370.4V1491.5M1734.0 1411.3V1492.9M1735.8 1390.8V1499.9M1737.8 1403.9V1490.9M1739.1 1381.6V1491.1M1741.3 1393.8V1476.9M1746.1 1368.6V1485.0M1749.1 1380.5V1488.0M1752.2 1358.5V1502.8M1755.0 1400.2V1487.7M1754.9 1337.9V1474.4M1761.6 1359.9V1464.9M1760.9 1369.5V1499.0M1766.3 1339.2V1477.2M1770.6 1336.8V1495.6M1774.5 1356.7V1483.4M1776.7 1374.6V1504.8M1778.8 1369.0V1493.3M1779.6 1341.7V1489.8M1781.5 1345.4V1488.1M1783.8 1329.8V1510.0M1787.8 1350.5V1519.1M1790.5 1301.7V1496.4M1795.9 1330.5V1508.5M1799.1 1337.3V1519.8M1806.0 1321.7V1489.2M1808.1 1378.9V1512.3M1810.2 1340.1V1506.7M1811.9 1375.6V1507.9M1814.1 1331.5V1509.1M1815.3 1337.5V1453.3M1817.0 1360.1V1447.3M1817.4 1272.0V1464.7M1819.9 1356.4V1451.8M1822.7 1327.5V1444.6M1825.0 1337.8V1427.6M1827.8 1313.1V1426.9M1828.7 1296.6V1481.9M1835.3 1287.6V1504.8M1836.2 1415.9V1469.7M1838.3 1405.7V1467.1M1840.5 1411.3V1476.8M1841.8 1409.4V1472.1M1844.5 1267.8V1487.7M1845.9 1295.2V1538.3M1847.9 1339.6V1487.2M1849.3 1271.5V1484.9M1849.8 1264.5V1504.6M1855.7 1324.0V1515.5M1856.7 1356.4V1476.7M1859.0 1390.8V1496.1M1862.1 1331.6V1480.8M1865.1 1355.4V1490.4M1867.6 1346.9V1470.5M1868.2 1357.1V1474.6M1870.6 1376.2V1473.3M1873.4 1356.5V1477.8M1877.2 1364.9V1501.0M1880.2 1363.2V1493.6M1882.4 1373.9V1490.3M1885.9 1342.3V1497.0M1886.4 1377.1V1499.3M1888.6 1396.6V1500.0M1890.6 1396.0V1504.7M1892.0 1402.0V1523.3M1895.6 1430.2V1492.5M1897.9 1438.3V1520.1M1899.2 1434.0V1498.1M1901.0 1449.6V1491.9M1902.4 1451.9V1482.9M1904.2 1451.5V1481.4M1905.9 1451.4V1481.9M1908.4 1448.5V1480.6M1911.7 1458.6V1519.1M1915.9 1443.6V1507.8M1917.5 1489.7V1508.9M1923.7 1479.3V1510.8M1924.7 1396.3V1476.6M1929.7 1423.2V1480.6M1928.7 1421.0V1523.5M1933.1 1403.0V1519.1M1936.8 1412.6V1516.2M1935.0 1467.3V1471.4M1937.4 1468.6V1484.0M1940.3 1468.2V1471.3M1941.7 1462.7V1471.1M1942.8 1432.7V1493.1M1945.6 1414.5V1496.4M1947.1 1422.3V1506.5M1949.7 1431.5V1497.2M1952.4 1396.3V1503.9M1954.0 1417.7V1505.3M1956.5 1376.0V1517.5M1957.2 1368.7V1488.5M1959.7 1360.4V1493.8M1961.6 1366.5V1499.5M1963.3 1369.5V1489.6M1962.4 1367.9V1462.7M1964.8 1382.5V1461.6M1968.1 1408.2V1464.3M1969.8 1381.5V1462.2M1972.5 1400.3V1509.1M1975.4 1432.5V1510.5M1978.7 1429.7V1514.3M1981.3 1479.5V1498.9M1983.2 1480.8V1524.6M1984.2 1481.7V1498.8M1985.5 1414.5V1498.3M1987.0 1446.2V1544.1M1993.1 1442.7V1581.6M1995.1 1404.9V1604.8M1997.7 1384.9V1490.1M2000.6 1425.4V1490.4M2002.2 1427.7V1487.7M2004.2 1394.0V1566.0M2006.7 1427.0V1507.7M2009.2 1421.0V1514.0M2009.6 1354.9V1530.6M2013.5 1384.5V1526.0M2016.7 1373.9V1532.9M2019.1 1378.6V1531.8M2022.6 1412.2V1527.4M2025.4 1406.2V1528.3M2025.4 1395.6V1520.2M2027.6 1374.6V1513.6M2029.6 1392.0V1509.5M2032.1 1391.6V1513.8M2034.0 1389.2V1538.4M2038.5 1370.1V1533.0M2040.6 1381.0V1533.4M2044.2 1427.2V1532.9M2047.0 1417.2V1543.9M2049.8 1413.2V1509.7M2049.7 1378.0V1500.2M2051.3 1407.8V1505.2M2053.1 1408.6V1502.7M2057.6 1461.2V1543.0M2062.8 1422.7V1523.8M2062.7 1459.4V1607.0M2066.4 1464.5V1579.8M2070.1 1445.5V1581.4M2071.5 1457.8V1504.3M2079.0 1446.7V1536.9M2079.4 1452.2V1565.7M2086.9 1441.1V1522.4M2085.3 1427.4V1505.7M2088.2 1405.5V1503.4M2091.3 1440.7V1607.0M2091.9 1387.0V1498.8M2098.6 1419.2V1510.1M2101.1 1387.5V1505.1M2103.9 1402.8V1509.3M2105.4 1421.6V1499.7M2107.0 1374.1V1503.2M2109.0 1398.0V1493.0M2110.5 1393.7V1490.1M2114.2 1389.4V1468.9M2117.3 1420.4V1473.0M2119.8 1396.5V1474.9M2122.7 1404.2V1513.6M2124.0 1420.8V1510.7M2127.0 1383.6V1507.6M2127.9 1319.0V1488.7M2129.8 1414.3V1491.2M2131.5 1408.3V1490.2M2132.1 1412.6V1497.4M2133.8 1489.1V1504.6M2136.4 1489.0V1505.5M2138.6 1482.6V1510.1M2142.2 1441.3V1508.5M2144.5 1439.7V1512.7M2146.0 1431.1V1509.8M2146.0 1385.5V1515.6M2148.8 1415.4V1484.7M2151.5 1413.9V1594.0M2152.3 1400.1V1480.3M2154.3 1423.1V1483.3M2155.4 1422.3V1499.2M2158.0 1403.9V1508.4M2160.3 1372.4V1499.3M2161.9 1425.2V1498.1M2163.2 1489.2V1502.0M2168.0 1485.9V1497.7M2171.8 1455.9V1534.6M2176.5 1467.0V1525.3M2180.8 1440.6V1541.2M2181.8 1471.2V1549.9M2184.4 1457.4V1541.9M2185.5 1476.3V1542.4M2186.5 1517.3V1544.4M2189.3 1519.4V1544.2M2192.1 1522.3V1556.3M2194.4 1456.5V1602.6M2195.8 1468.5V1552.3M2196.8 1451.7V1554.9M2198.6 1490.9V1551.8M2201.0 1469.9V1535.4M2204.4 1457.6V1537.3M2207.0 1488.4V1568.4M2210.2 1467.3V1523.5M2213.2 1468.0V1529.9M2216.2 1452.8V1522.6M2215.5 1519.8V1527.0M2218.2 1519.9V1523.0M2219.6 1519.4V1522.9M2221.5 1508.2V1523.1M2223.8 1469.7V1529.5M2225.5 1458.3V1535.1M2227.9 1455.7V1526.1M2230.0 1467.8V1528.9M2229.2 1494.8V1534.1M2236.4 1499.9V1538.6M2234.5 1485.5V1531.4M2238.7 1492.9V1535.6M2241.4 1503.5V1533.2M2241.9 1378.0V1541.0M2244.6 1495.7V1546.7M2248.5 1490.4V1542.0M2249.5 1485.8V1538.4M2253.6 1479.6V1534.8M2254.7 1466.8V1526.2M2260.3 1438.5V1510.0M2261.1 1480.9V1526.2M2265.5 1486.4V1552.7M2268.2 1487.1V1531.6M2270.7 1484.7V1531.9M2272.3 1470.0V1531.8M2274.9 1486.2V1540.2M2275.0 1481.4V1521.7M2278.0 1486.4V1513.0M2280.4 1473.0V1513.5M2281.7 1490.2V1533.8M2288.0 1500.7V1549.1M2290.7 1491.6V1530.1M2292.3 1474.6V1531.5M2294.6 1490.3V1531.6M2297.2 1483.4V1540.6M2296.6 1433.8V1563.6M2302.0 1486.3V1554.6M2303.0 1488.3V1555.2M2305.7 1498.0V1554.8M2306.9 1495.7V1555.7M2309.0 1492.9V1559.0M2308.6 1484.5V1521.3M2315.4 1497.8V1573.8M2316.5 1464.7V1556.2M2320.9 1489.2V1593.0M2321.9 1442.4V1527.0M2328.6 1418.5V1539.4M2330.7 1412.9V1538.5M2333.6 1400.1V1536.0M2335.6 1445.8V1607.0M2339.6 1393.3V1532.0M2340.8 1418.2V1530.8M2342.8 1416.6V1531.4M2344.0 1426.0V1545.0M2345.9 1422.8V1567.9M2353.5 1410.1V1543.6" class="sblk"/><path d="M328.4 1459.7V1539.4M330.2 1472.9V1532.8M331.8 1460.4V1532.2M332.9 1441.2V1510.1M340.5 1446.1V1508.7M341.7 1453.9V1526.2M343.6 1427.9V1526.2M346.6 1472.6V1517.9M348.4 1447.2V1525.2M351.7 1421.3V1523.7M354.3 1416.1V1523.7M355.8 1503.2V1529.7M357.5 1512.8V1531.4M358.7 1496.9V1530.2M360.8 1500.7V1531.6M363.2 1428.0V1518.7M365.4 1401.8V1516.7M368.0 1424.8V1510.1M370.4 1409.5V1521.0M372.5 1414.9V1518.3M373.7 1406.1V1518.7M375.3 1417.9V1520.9M379.2 1442.5V1516.4M379.6 1451.5V1514.7M381.7 1438.3V1520.9M383.5 1420.9V1515.1M385.9 1407.2V1515.3M391.2 1418.3V1505.2M391.9 1387.9V1511.3M394.5 1399.1V1516.6M396.7 1406.7V1512.6M398.5 1423.4V1516.2M399.8 1421.2V1513.6M403.2 1398.6V1505.6M405.3 1370.6V1510.1M405.6 1406.8V1511.1M412.8 1366.2V1510.9M414.6 1412.1V1517.9M420.9 1412.1V1518.5M422.5 1387.6V1511.5M428.1 1430.5V1509.3M431.8 1423.6V1510.2M436.8 1408.6V1508.0M436.8 1420.3V1505.0M442.7 1443.1V1505.0M445.5 1458.6V1513.8M447.8 1457.2V1513.5M449.2 1463.1V1513.5M453.7 1514.1V1523.1M455.4 1520.6V1522.9M457.4 1518.7V1522.3M457.8 1514.5V1522.5M457.8 1498.3V1509.4M464.9 1495.6V1509.6M465.3 1445.6V1533.3M468.4 1455.4V1533.2M471.5 1459.7V1535.8M475.3 1424.0V1507.3M476.7 1426.7V1507.7M478.3 1457.2V1511.4M480.4 1469.3V1513.8M482.3 1417.7V1529.5M484.4 1419.3V1527.7M486.2 1400.5V1531.4M487.2 1405.9V1524.2M489.8 1442.5V1518.1M493.4 1437.0V1519.0M497.2 1431.2V1519.5M497.9 1479.6V1518.4M502.1 1484.4V1516.7M505.8 1475.6V1519.7M505.0 1465.1V1518.1M508.4 1462.4V1517.4M510.5 1450.8V1517.4M511.7 1466.6V1514.2M513.4 1471.0V1513.0M515.9 1472.4V1513.8M517.8 1474.6V1515.2M517.0 1476.6V1530.2M521.8 1485.4V1535.5M526.1 1495.5V1523.0M527.7 1492.8V1519.8M531.4 1494.3V1522.8M532.1 1492.9V1514.3M534.2 1490.7V1513.7M536.5 1489.7V1513.8M539.1 1471.4V1560.5M543.8 1437.7V1559.0M544.2 1445.5V1530.0M546.9 1434.3V1526.4M549.1 1460.5V1527.1M549.9 1463.4V1527.6M551.7 1465.9V1529.0M557.4 1465.1V1526.5M558.6 1471.8V1514.0M560.6 1465.9V1514.5M563.6 1473.2V1516.3M565.5 1455.3V1572.8M571.1 1470.1V1569.4M571.0 1467.3V1507.5M574.1 1462.5V1508.3M577.5 1477.7V1507.9M578.5 1489.1V1533.5M581.0 1487.3V1533.2M583.9 1426.0V1529.1M587.9 1419.1V1490.7M589.6 1414.1V1490.1M590.6 1414.6V1489.6M592.0 1417.4V1486.2M593.8 1382.9V1476.2M595.3 1395.5V1477.5M596.4 1409.3V1479.3M598.2 1429.1V1478.7M599.7 1383.2V1499.8M607.1 1369.9V1499.0M609.1 1353.6V1521.6M615.7 1345.4V1515.6M617.7 1391.0V1543.5M623.4 1346.2V1544.7M625.5 1339.4V1567.7M628.5 1375.3V1546.2M630.5 1376.1V1559.1M631.3 1328.4V1520.2M633.2 1324.3V1527.0M635.3 1341.0V1527.8M637.1 1334.8V1511.2M638.0 1340.0V1525.8M640.0 1358.9V1532.3M642.6 1317.9V1531.5M642.8 1433.7V1526.1M649.3 1439.8V1521.0M649.6 1363.4V1518.7M651.8 1378.4V1522.6M653.1 1382.4V1513.1M655.5 1395.1V1522.1M657.8 1378.6V1517.8M660.8 1399.6V1516.8M661.2 1382.7V1514.3M662.6 1374.1V1507.9M666.4 1457.5V1518.7M669.7 1471.4V1521.0M673.4 1413.0V1497.1M675.6 1394.1V1505.4M678.4 1385.1V1501.1M679.4 1421.2V1514.0M680.6 1397.4V1522.4M683.6 1413.9V1522.0M685.8 1454.7V1565.7M688.2 1467.3V1561.3M688.6 1455.5V1559.3M690.8 1426.6V1565.6M694.2 1420.6V1515.9M695.3 1425.0V1522.8M697.3 1449.6V1525.7M698.6 1441.1V1524.9M699.5 1447.3V1527.8M705.9 1421.7V1529.8M709.0 1405.3V1485.3M710.3 1400.5V1482.8M713.0 1397.9V1483.6M713.7 1401.8V1484.5M716.6 1410.4V1488.4M719.1 1421.6V1481.2M722.2 1427.0V1486.8M724.1 1391.9V1505.1M729.1 1392.1V1504.6M729.6 1413.6V1510.8M731.9 1435.3V1505.4M734.1 1430.0V1507.3M736.1 1415.8V1511.1M744.0 1480.7V1497.9M745.9 1479.6V1497.9M748.7 1480.3V1496.6M750.5 1483.5V1497.3M753.1 1498.3V1507.9M755.7 1497.9V1508.9M759.8 1502.4V1509.2M761.3 1476.3V1519.5M763.5 1476.1V1517.3M766.9 1469.1V1519.5M768.3 1451.3V1525.8M770.5 1470.9V1522.1M773.2 1453.0V1525.4M774.3 1474.2V1491.0M778.1 1469.6V1489.7M780.7 1467.8V1488.7M781.7 1474.8V1490.2M784.6 1467.0V1491.0M787.0 1466.7V1489.7M786.9 1487.3V1491.0M791.8 1483.5V1491.1M793.4 1485.0V1490.6M796.4 1475.0V1505.8M802.1 1481.0V1505.6M804.8 1433.1V1480.2M811.3 1439.4V1476.9M811.1 1433.3V1476.7M814.2 1431.7V1479.0M816.2 1446.7V1478.9M819.8 1423.0V1516.9M821.4 1427.2V1515.4M823.5 1413.2V1516.6M824.8 1409.5V1517.6M825.7 1412.0V1511.0M827.7 1405.1V1505.9M831.7 1381.4V1510.8M834.4 1415.6V1497.6M836.0 1366.1V1496.9M837.4 1366.8V1495.8M839.3 1391.5V1497.5M842.7 1373.6V1510.4M847.9 1349.6V1508.3M849.6 1379.1V1488.3M851.8 1334.7V1479.8M853.7 1343.6V1486.3M858.9 1350.6V1475.8M863.0 1317.6V1468.5M863.9 1302.5V1501.8M866.8 1303.8V1499.9M870.6 1272.7V1493.7M871.6 1297.8V1446.0M873.3 1299.8V1450.3M874.8 1304.6V1450.1M877.6 1296.5V1450.8M878.6 1421.2V1502.2M882.5 1413.7V1502.9M885.3 1427.7V1501.2M885.8 1459.2V1535.2M892.1 1423.7V1535.3M892.9 1466.6V1534.6M900.3 1468.5V1541.8M900.1 1450.8V1540.3M904.1 1455.1V1546.9M906.5 1439.9V1546.4M907.5 1432.5V1532.1M909.8 1440.1V1525.9M910.9 1465.8V1529.6M912.1 1418.3V1532.8M913.7 1459.0V1516.2M920.4 1404.1V1518.8M922.5 1409.7V1492.2M924.6 1389.3V1488.8M927.6 1384.2V1487.4M930.6 1342.4V1485.5M936.4 1348.7V1498.1M939.1 1287.8V1453.2M940.8 1290.8V1449.1M943.2 1274.4V1454.7M948.2 1294.5V1494.4M951.7 1281.9V1492.8M955.5 1277.4V1493.5M962.0 1278.8V1474.1M963.4 1277.5V1490.9M965.8 1387.1V1492.5M969.0 1265.7V1480.8M970.0 1356.9V1487.8M975.2 1367.5V1474.0M978.4 1269.1V1476.0M983.8 1330.6V1476.9M988.2 1259.9V1494.0M989.8 1291.5V1488.6M991.7 1294.4V1486.1M992.4 1396.9V1492.2M996.5 1408.5V1492.8M999.7 1406.7V1493.7M1001.7 1315.8V1499.9M1003.9 1309.3V1507.6M1004.6 1306.9V1506.4M1005.5 1315.8V1505.3M1010.0 1334.2V1494.1M1012.1 1323.2V1486.4M1014.2 1363.3V1476.1M1016.0 1316.8V1484.5M1021.4 1327.7V1481.2M1025.1 1448.5V1501.8M1025.6 1451.0V1501.6M1028.2 1438.2V1500.1M1029.0 1420.8V1503.7M1032.0 1338.8V1481.7M1033.1 1335.7V1486.3M1035.3 1317.4V1480.4M1037.3 1309.2V1485.4M1040.8 1421.6V1499.8M1043.3 1409.2V1499.2M1045.3 1427.6V1499.3M1047.3 1354.3V1484.3M1051.9 1356.1V1504.5M1052.9 1372.5V1484.0M1052.8 1378.9V1482.2M1055.8 1353.9V1490.5M1057.3 1382.4V1490.1M1061.2 1366.9V1442.4M1063.4 1370.5V1437.5M1066.1 1362.4V1438.6M1068.1 1469.4V1482.1M1074.6 1463.5V1483.1M1077.8 1427.9V1468.6M1083.3 1421.9V1470.4M1084.1 1485.0V1491.7M1090.4 1486.2V1492.6M1091.6 1409.8V1473.0M1095.2 1425.4V1472.4M1099.7 1415.0V1487.4M1101.0 1419.6V1486.0M1103.0 1416.1V1479.8M1104.7 1391.6V1488.7M1106.4 1380.6V1515.1M1107.8 1384.0V1508.2M1111.2 1368.2V1514.1M1112.9 1400.7V1516.8M1115.5 1478.5V1508.9M1117.0 1466.9V1507.6M1119.7 1469.3V1506.2M1120.4 1467.3V1509.6M1123.2 1473.6V1506.7M1127.1 1469.6V1508.0M1131.1 1461.5V1542.3M1132.3 1457.4V1543.9M1134.0 1436.8V1540.5M1135.4 1441.5V1548.1M1137.2 1317.5V1487.2M1138.2 1385.2V1487.4M1140.9 1342.0V1483.8M1142.7 1320.6V1490.5M1145.0 1303.9V1485.1M1150.3 1303.4V1470.7M1153.0 1325.5V1492.7M1155.8 1287.7V1499.1M1157.8 1328.2V1501.0M1158.2 1330.2V1455.8M1164.8 1294.0V1475.7M1166.8 1325.9V1508.9M1169.7 1327.3V1498.5M1171.6 1310.6V1514.0M1173.1 1309.2V1509.4M1174.3 1281.5V1509.6M1176.7 1290.6V1505.4M1178.7 1365.7V1498.2M1178.9 1371.7V1517.1M1186.4 1415.4V1514.6M1185.8 1269.4V1516.4M1188.9 1335.0V1512.0M1192.5 1246.9V1520.6M1192.6 1250.7V1468.7M1194.6 1253.1V1475.9M1197.0 1257.8V1469.5M1197.5 1249.4V1525.5M1202.7 1349.3V1524.9M1205.2 1257.7V1473.4M1208.1 1301.7V1449.7M1212.0 1296.1V1475.0M1216.7 1249.1V1509.4M1218.2 1313.6V1528.4M1221.1 1362.0V1527.1M1223.2 1266.7V1526.9M1224.1 1311.6V1519.8M1225.6 1258.0V1519.2M1227.8 1288.4V1525.7M1230.4 1307.0V1513.2M1230.3 1487.2V1534.1M1232.9 1487.3V1536.6M1234.7 1477.1V1532.8M1237.6 1477.7V1533.8M1237.4 1402.4V1438.6M1239.3 1391.9V1439.1M1241.6 1400.9V1437.5M1242.3 1392.0V1437.5M1243.3 1281.3V1533.6M1245.6 1291.7V1525.5M1247.8 1359.0V1518.9M1250.5 1279.6V1527.3M1251.2 1355.4V1497.1M1257.6 1297.8V1515.2M1257.5 1481.3V1509.1M1259.5 1494.2V1514.6M1262.6 1470.6V1514.8M1263.3 1465.9V1512.2M1265.0 1348.9V1447.1M1269.9 1316.4V1451.8M1270.2 1298.6V1500.4M1274.9 1317.3V1501.4M1277.8 1274.0V1517.1M1277.8 1271.6V1551.1M1282.5 1290.9V1548.7M1285.0 1328.9V1494.4M1287.3 1270.4V1507.2M1289.5 1303.9V1496.2M1292.6 1347.5V1513.4M1295.1 1282.5V1513.4M1297.7 1295.7V1511.8M1299.7 1308.3V1506.2M1302.4 1317.7V1490.7M1304.5 1301.7V1507.9M1308.7 1369.2V1507.4M1313.9 1296.5V1502.4M1315.4 1447.1V1536.7M1316.4 1449.3V1540.1M1319.9 1447.8V1535.1M1323.5 1340.2V1502.2M1326.6 1297.9V1490.4M1330.6 1458.9V1510.5M1335.8 1468.0V1510.2M1336.4 1303.0V1494.8M1338.9 1309.1V1490.0M1341.4 1360.1V1483.5M1343.8 1418.7V1521.7M1347.2 1303.7V1514.3M1348.8 1319.9V1516.2M1348.7 1290.1V1508.9M1352.5 1301.8V1510.1M1355.8 1337.7V1508.7M1357.6 1439.4V1535.2M1363.8 1422.6V1535.4M1366.5 1470.1V1521.7M1368.4 1472.4V1513.4M1370.2 1449.2V1524.5M1371.4 1473.8V1521.1M1373.5 1270.7V1505.0M1378.6 1281.4V1509.0M1381.9 1323.4V1517.2M1387.1 1295.3V1512.1M1388.8 1298.2V1504.5M1391.1 1291.8V1507.6M1392.4 1368.8V1505.7M1395.3 1287.5V1486.6M1397.1 1327.0V1489.8M1399.2 1283.5V1482.6M1399.7 1284.3V1483.1M1403.0 1413.2V1501.1M1404.1 1361.5V1498.7M1405.6 1383.2V1502.1M1406.4 1368.0V1498.1M1408.3 1240.1V1504.3M1410.3 1235.0V1506.3M1411.7 1236.5V1495.5M1413.6 1299.6V1512.9M1415.5 1272.6V1514.9M1418.7 1228.1V1497.4M1421.8 1236.5V1516.9M1421.5 1228.5V1496.8M1426.5 1300.6V1495.0M1429.8 1286.0V1508.0M1433.3 1297.2V1517.3M1437.5 1329.4V1516.8M1435.8 1279.1V1505.8M1439.3 1321.6V1511.3M1443.0 1281.2V1509.1M1441.8 1296.7V1508.8M1443.7 1302.7V1508.3M1445.8 1301.0V1498.7M1448.1 1282.9V1499.0M1448.6 1346.5V1522.7M1450.9 1383.0V1514.8M1451.8 1306.1V1511.5M1454.0 1302.7V1521.3M1456.5 1343.0V1511.6M1460.6 1328.9V1506.6M1463.8 1344.9V1499.7M1468.6 1388.2V1510.7M1471.0 1391.8V1512.2M1474.1 1371.0V1519.2M1476.4 1340.1V1511.7M1479.1 1435.0V1507.5M1481.4 1465.0V1504.8M1484.7 1435.3V1506.3M1484.6 1398.5V1512.2M1491.5 1366.4V1515.1M1492.2 1417.2V1498.9M1495.7 1452.2V1500.8M1498.9 1419.6V1502.5M1502.3 1411.7V1445.5M1508.0 1411.6V1444.4M1510.9 1372.2V1488.0M1513.3 1355.3V1485.4M1516.6 1344.4V1492.3M1517.3 1321.7V1491.0M1521.1 1352.4V1501.8M1523.4 1377.3V1504.5M1523.8 1321.5V1487.7M1525.9 1356.7V1489.6M1528.0 1310.2V1489.8M1529.3 1299.6V1480.1M1530.6 1364.4V1523.9M1537.3 1310.0V1517.2M1538.4 1388.2V1482.6M1544.2 1332.3V1484.8M1546.1 1413.4V1508.1M1551.5 1384.1V1508.1M1554.7 1386.8V1489.0M1557.9 1386.5V1493.6M1560.6 1440.5V1523.8M1563.6 1423.8V1523.3M1566.3 1414.7V1523.2M1568.1 1422.7V1512.3M1570.2 1283.9V1510.6M1575.1 1289.2V1518.0M1575.0 1341.4V1509.2M1577.9 1314.8V1519.5M1580.5 1335.5V1515.1M1584.3 1410.3V1512.3M1585.5 1410.7V1509.5M1586.9 1403.8V1509.7M1588.8 1422.3V1510.4M1591.7 1448.5V1502.0M1594.0 1436.3V1500.8M1595.7 1463.5V1503.0M1597.5 1435.7V1499.6M1599.4 1406.2V1509.2M1607.4 1396.8V1506.3M1609.0 1389.8V1450.3M1610.9 1349.8V1450.1M1613.0 1389.0V1444.3M1613.9 1363.4V1445.3M1616.6 1321.5V1495.2M1619.7 1340.6V1500.0M1622.4 1329.0V1491.3M1622.7 1386.4V1485.1M1630.8 1308.4V1482.3M1627.9 1449.7V1484.6M1630.3 1442.3V1486.0M1632.9 1455.6V1484.0M1635.9 1442.3V1486.3M1635.9 1258.9V1463.4M1637.8 1314.5V1458.1M1639.2 1346.7V1452.0M1640.9 1263.6V1453.2M1642.9 1271.8V1467.7M1647.0 1247.9V1471.4M1648.3 1410.6V1452.0M1649.7 1414.1V1452.1M1652.3 1425.9V1448.7M1654.5 1292.5V1486.1M1658.3 1325.3V1489.0M1662.2 1264.0V1487.2M1662.7 1248.1V1478.3M1669.4 1285.0V1485.5M1669.7 1382.9V1476.9M1675.7 1358.2V1482.4M1678.9 1274.8V1381.6M1681.0 1282.4V1391.2M1681.3 1281.0V1389.1M1683.6 1288.3V1386.9M1685.1 1285.7V1457.2M1686.5 1277.2V1462.0M1688.4 1311.5V1456.2M1690.7 1315.2V1446.9M1691.1 1285.7V1465.8M1693.8 1285.9V1462.6M1695.0 1293.0V1467.1M1697.7 1304.3V1480.5M1699.9 1267.1V1469.3M1702.0 1296.6V1470.9M1703.7 1324.9V1491.4M1706.8 1272.4V1482.6M1710.6 1275.5V1484.5M1711.5 1307.9V1485.5M1714.1 1373.3V1483.8M1715.4 1305.5V1490.3M1717.8 1289.1V1482.9M1719.7 1319.5V1480.7M1723.8 1323.3V1475.5M1727.1 1371.3V1491.8M1729.2 1378.3V1496.3M1731.1 1361.3V1485.0M1733.5 1372.9V1488.5M1734.5 1413.8V1489.9M1736.3 1393.3V1490.6M1738.3 1406.4V1487.9M1739.6 1388.0V1488.1M1741.8 1396.3V1473.9M1746.6 1382.2V1474.2M1749.6 1383.0V1485.0M1752.7 1373.3V1486.8M1755.5 1402.7V1484.7M1755.4 1356.8V1463.6M1762.1 1362.4V1461.9M1761.4 1372.0V1477.2M1766.8 1348.7V1474.2M1771.1 1346.7V1484.6M1775.0 1359.2V1480.4M1777.2 1377.1V1491.7M1779.3 1371.5V1490.3M1780.1 1347.8V1486.8M1782.0 1347.9V1485.1M1784.3 1340.5V1507.0M1788.3 1353.0V1511.9M1791.0 1321.0V1493.4M1796.4 1333.0V1498.7M1799.6 1339.8V1499.5M1806.5 1325.2V1486.2M1808.6 1381.4V1507.2M1810.7 1342.6V1503.7M1812.4 1378.1V1504.9M1814.6 1339.1V1506.1M1815.8 1340.0V1450.3M1817.5 1362.6V1444.3M1817.9 1324.9V1454.1M1820.4 1358.9V1448.8M1823.2 1330.0V1429.4M1825.5 1340.3V1424.6M1828.3 1326.9V1423.9M1829.2 1299.1V1478.9M1835.8 1297.7V1499.4M1836.7 1418.4V1466.7M1838.8 1408.8V1464.1M1841.0 1413.8V1469.6M1842.3 1411.9V1469.1M1845.0 1271.9V1484.7M1846.4 1297.7V1488.7M1848.4 1342.1V1484.2M1849.8 1274.0V1481.9M1850.3 1272.8V1501.6M1856.2 1326.5V1507.4M1857.2 1358.9V1473.7M1859.5 1393.3V1481.4M1862.6 1357.2V1477.8M1865.6 1357.9V1474.0M1868.1 1357.9V1467.5M1868.7 1359.6V1471.6M1871.1 1378.7V1470.3M1873.9 1366.0V1474.8M1877.7 1367.4V1481.8M1880.7 1365.7V1490.6M1882.9 1376.4V1487.3M1886.4 1360.7V1493.1M1886.9 1384.1V1496.3M1889.1 1399.1V1497.0M1891.1 1398.5V1501.7M1892.5 1404.5V1504.0M1896.1 1434.6V1489.5M1898.4 1440.8V1495.4M1899.7 1436.5V1495.1M1901.5 1452.1V1488.9M1902.9 1454.4V1479.6M1904.7 1454.0V1478.4M1906.4 1453.9V1478.9M1908.9 1452.3V1477.6M1912.2 1461.1V1506.0M1916.4 1453.4V1504.8M1918.0 1492.2V1505.9M1924.2 1485.3V1506.1M1925.2 1414.3V1473.6M1930.2 1425.7V1476.5M1929.2 1423.5V1517.9M1933.6 1411.6V1516.1M1937.3 1415.1V1513.2M1943.3 1435.2V1490.1M1946.1 1422.7V1493.4M1947.6 1424.8V1495.0M1950.2 1434.0V1494.2M1952.9 1398.8V1500.9M1954.5 1420.2V1502.3M1957.0 1379.8V1507.6M1957.7 1371.2V1485.5M1960.2 1364.9V1490.8M1962.1 1369.0V1493.2M1963.8 1372.0V1486.6M1962.9 1379.0V1459.7M1965.3 1385.0V1458.6M1968.6 1410.7V1460.8M1970.3 1384.0V1459.2M1973.0 1414.3V1506.1M1975.9 1435.0V1507.5M1979.2 1432.2V1509.9M1981.8 1482.0V1495.9M1983.7 1483.3V1496.2M1984.7 1484.2V1495.8M1986.0 1481.7V1495.3M1987.5 1448.7V1541.1M1993.6 1447.0V1544.2M1995.6 1407.4V1488.4M1998.2 1394.4V1487.1M2001.1 1427.9V1487.4M2002.7 1430.2V1484.7M2004.7 1401.4V1512.5M2007.2 1429.5V1504.7M2009.7 1423.5V1511.0M2010.1 1372.7V1527.6M2014.0 1387.0V1523.0M2017.2 1376.4V1528.5M2019.6 1385.1V1528.8M2023.1 1414.7V1524.4M2025.9 1408.7V1525.3M2025.9 1398.1V1512.9M2028.1 1383.8V1510.6M2030.1 1394.5V1506.5M2032.6 1394.1V1510.8M2034.5 1391.7V1535.3M2039.0 1381.4V1530.0M2041.1 1399.8V1530.4M2044.7 1429.7V1529.9M2047.5 1419.7V1534.4M2050.3 1415.7V1502.5M2050.2 1401.9V1497.2M2051.8 1410.3V1502.2M2053.6 1411.1V1499.7M2058.1 1463.7V1524.9M2063.3 1441.3V1520.8M2063.2 1461.9V1584.7M2066.9 1467.0V1576.8M2070.6 1456.9V1578.4M2072.0 1460.3V1501.3M2079.5 1450.4V1503.8M2079.9 1454.7V1519.5M2087.4 1448.3V1519.4M2085.8 1429.9V1502.7M2088.7 1411.3V1500.4M2091.8 1443.2V1504.0M2092.4 1407.2V1495.8M2099.1 1421.7V1499.2M2101.6 1400.7V1502.1M2104.4 1405.3V1505.2M2105.9 1424.1V1496.7M2107.5 1391.0V1492.0M2109.5 1400.5V1490.0M2111.0 1396.2V1487.1M2114.7 1394.6V1465.9M2117.8 1422.9V1470.0M2120.3 1399.0V1470.8M2123.2 1406.7V1509.5M2124.5 1423.3V1507.7M2127.5 1387.1V1504.6M2128.4 1407.3V1485.7M2130.3 1416.8V1488.2M2132.0 1410.8V1487.2M2132.6 1415.1V1488.5M2134.3 1491.6V1501.6M2136.9 1491.5V1502.5M2139.1 1486.5V1503.3M2142.7 1443.8V1505.5M2145.0 1442.2V1509.7M2146.5 1433.6V1506.8M2146.5 1405.1V1510.2M2149.3 1417.9V1481.7M2152.0 1416.4V1482.0M2152.8 1408.8V1477.3M2154.8 1425.6V1480.3M2155.9 1424.8V1496.2M2158.5 1406.4V1496.5M2160.8 1406.3V1496.3M2162.4 1427.7V1495.1M2163.7 1491.7V1494.8M2168.5 1490.0V1494.7M2172.3 1458.8V1523.9M2177.0 1469.5V1522.3M2181.3 1454.4V1538.2M2182.3 1473.7V1539.7M2184.9 1459.9V1538.9M2186.0 1478.8V1539.4M2187.0 1521.3V1541.4M2189.8 1521.9V1541.2M2192.6 1524.8V1541.6M2194.9 1459.0V1552.4M2196.3 1471.0V1549.3M2197.3 1458.9V1551.9M2199.1 1493.4V1548.8M2201.5 1472.4V1532.4M2204.9 1472.0V1534.3M2207.5 1490.9V1537.8M2210.7 1469.8V1520.5M2213.7 1470.5V1521.1M2216.7 1466.9V1519.6M2224.3 1472.2V1526.5M2226.0 1460.8V1528.7M2228.4 1460.0V1523.1M2230.5 1470.3V1525.9M2229.7 1500.4V1531.1M2236.9 1502.4V1531.4M2235.0 1491.9V1528.4M2239.2 1495.4V1530.6M2241.9 1506.0V1530.2M2242.4 1479.7V1538.0M2245.1 1498.2V1541.2M2249.0 1492.9V1539.0M2250.0 1488.3V1533.2M2254.1 1484.8V1531.8M2255.2 1469.3V1508.5M2260.8 1465.5V1507.0M2261.6 1487.9V1523.2M2266.0 1488.9V1523.6M2268.7 1489.6V1528.6M2271.2 1487.2V1528.9M2272.8 1482.2V1528.8M2275.4 1488.7V1531.3M2275.5 1483.9V1510.6M2278.5 1488.9V1510.0M2280.9 1482.0V1510.5M2282.2 1501.0V1530.8M2288.5 1503.2V1530.9M2291.2 1494.1V1527.1M2292.8 1481.7V1528.5M2295.1 1492.8V1528.6M2297.7 1485.9V1529.1M2297.1 1475.7V1551.6M2302.5 1488.8V1551.6M2303.5 1492.0V1552.2M2306.2 1500.5V1551.8M2307.4 1498.2V1552.7M2309.5 1495.4V1554.1M2309.1 1494.8V1518.3M2315.9 1500.3V1519.4M2317.0 1472.5V1553.2M2321.4 1491.7V1554.8M2322.4 1444.9V1524.0M2329.1 1427.2V1535.7M2331.2 1415.4V1535.5M2334.1 1404.7V1533.0M2336.1 1448.3V1536.1M2340.1 1413.2V1529.0M2341.3 1420.7V1527.8M2343.3 1419.1V1528.4M2344.5 1428.5V1531.2M2346.4 1425.3V1544.7M2354.0 1420.9V1540.6" class="sred"/></g></g>
<path d="M323.3 235.1h20M2346.5 235.1h-20M323.3 387.2h20M2346.5 387.2h-20M323.3 539.3h20M2346.5 539.3h-20M997.7 691.4v-20M997.7 83.0v20M1672.1 691.4v-20M1672.1 83.0v20" stroke="#9a9a9a" stroke-width="2" fill="none"/>
<rect x="323.3" y="83.0" width="2023.2" height="608.4" fill="none" stroke="#9a9a9a" stroke-width="2.4"/>
<text x="303.3" y="108.5" text-anchor="end" class="tk">0.950</text>
<text x="303.3" y="260.6" text-anchor="end" class="tk">0.948</text>
<text x="303.3" y="412.7" text-anchor="end" class="tk">0.946</text>
<text x="303.3" y="564.8" text-anchor="end" class="tk">0.944</text>
<text x="303.3" y="716.9" text-anchor="end" class="tk">0.944</text>
<text x="323.3" y="779.4" text-anchor="middle" class="tk">9</text>
<text x="997.7" y="779.4" text-anchor="middle" class="tk">10</text>
<text x="1672.1" y="779.4" text-anchor="middle" class="tk">11</text>
<text x="2346.5" y="779.4" text-anchor="middle" class="tk">12</text>
<text x="1334.9" y="872.0" text-anchor="middle" class="lab">Month</text>
<text transform="translate(109.5 387.2) rotate(-90)" text-anchor="middle" class="lab">Frequency(Hz)</text>
<rect x="1119" y="104.5" width="1177" height="91.5" fill="#fff" stroke="#a8a8a8" stroke-width="2.4"/>
<line x1="1129" y1="150.5" x2="1219" y2="150.5" stroke="#555" stroke-width="2.2"/>
<text x="1226" y="176.5" class="lg">Measured CFF</text>
<line x1="1696" y1="150.5" x2="1784" y2="150.5" stroke="#f03a3a" stroke-width="2" stroke-dasharray="3 5" opacity="0.7"/>
<text x="1793" y="176.5" class="lg">Prediction Value</text>
<rect x="910" y="528.5" width="962" height="123" fill="#fff"/>
<path d="M911.0 539.4L911.9 547.3 913.2 560.1 914.7 574.4 916.4 588.8 918.0 600.1 919.6 610.5 921.3 621.4 923.0 632.8 924.9 642.1 927.0 647.2 929.4 649.8 932.2 651.9 935.0 653.9 937.7 650.9 940.0 645.6 941.7 640.3 942.9 630.0 944.1 619.6 945.3 608.9 947.0 599.4 949.2 592.5 951.7 584.4 954.4 577.0 957.2 571.5 960.0 566.7 963.0 560.3 966.1 557.9 969.3 554.6 972.3 553.7 975.0 552.5 977.3 555.0 979.3 558.2 981.1 562.1 983.0 565.7 985.0 569.7 987.3 571.6 989.8 573.4 992.2 576.7 994.7 578.0 997.0 582.9 999.2 587.1 1001.3 590.7 1003.3 598.4 1005.2 602.5 1007.0 607.0 1008.6 609.4 1009.9 609.5 1011.3 611.5 1012.7 610.3 1014.5 607.8 1016.8 598.7 1019.4 589.4 1022.2 575.9 1024.8 565.6 1027.0 557.8 1028.7 556.4 1030.1 555.1 1031.2 557.5 1032.5 557.7 1034.0 559.2 1035.8 560.6 1037.8 561.5 1039.9 564.3 1042.0 567.2 1044.0 566.7 1045.9 566.9 1047.8 565.6 1049.6 564.5 1051.7 561.8 1054.0 559.9 1056.8 557.6 1060.0 554.1 1063.3 549.9 1066.4 548.5 1069.0 545.0 1070.9 543.7 1072.4 542.4 1073.6 543.9 1075.1 544.7 1077.0 549.2 1079.5 559.1 1082.4 574.8 1085.5 589.5 1088.8 603.7 1092.0 615.1 1095.2 618.4 1098.5 620.7 1101.9 620.4 1105.4 618.4 1109.0 617.0 1112.9 615.9 1117.1 611.2 1121.4 606.7 1125.4 602.1 1129.0 599.4 1131.9 595.5 1134.3 592.1 1136.5 587.5 1138.8 583.5 1141.5 579.4 1144.7 575.8 1148.3 572.5 1151.9 568.4 1155.6 565.3 1159.0 563.5 1162.2 559.5 1165.4 555.1 1168.5 555.3 1171.4 552.1 1174.0 549.2 1176.3 549.3 1178.3 547.4 1180.1 546.0 1182.0 545.5 1184.0 545.2 1186.3 546.0 1188.8 546.8 1191.2 546.2 1193.7 548.6 1196.0 553.5 1198.2 557.4 1200.4 567.1 1202.5 576.2 1204.4 585.2 1206.0 593.8 1207.2 602.5 1208.0 611.0 1208.7 617.7 1209.6 624.2 1211.0 628.6 1213.1 629.6 1215.8 629.3 1218.6 626.8 1221.5 623.6 1224.0 621.0 1226.1 615.1 1228.0 608.4 1229.8 602.0 1231.8 594.2 1234.0 589.4 1236.7 586.6 1239.6 583.6 1242.7 582.1 1245.7 578.9 1248.6 575.8 1251.3 576.9 1253.8 575.0 1256.3 572.3 1258.7 572.9 1261.0 570.0 1263.2 565.8 1265.4 563.4 1267.5 559.8 1269.4 558.3 1271.0 554.4 1272.2 553.2 1273.0 551.6 1273.7 550.9 1274.6 551.9 1276.0 557.2 1278.1 566.7 1280.6 579.0 1283.4 592.0 1286.1 605.4 1288.5 617.1 1290.6 624.4 1292.5 631.1 1294.3 635.4 1296.1 641.8 1298.0 642.7 1299.8 640.7 1301.5 639.6 1303.3 635.9 1305.4 627.9 1308.0 624.1 1311.4 618.1 1315.5 611.5 1319.9 603.1 1324.2 595.7 1328.0 589.7 1331.5 586.3 1334.8 582.4 1338.0 576.7 1340.7 573.5 1343.0 574.2 1344.2 569.8 1344.5 569.5 1344.7 569.9 1345.6 570.4 1348.0 570.8 1352.6 569.7 1358.9 567.8 1365.9 568.3 1372.6 568.4 1378.0 571.5 1382.1 574.0 1385.5 578.8 1388.3 585.6 1390.8 594.0 1393.0 597.6 1394.9 600.0 1396.2 604.0 1397.4 606.8 1398.5 610.2 1400.0 611.2 1401.7 616.2 1403.5 620.5 1405.5 623.4 1407.6 627.2 1410.0 630.9 1412.8 631.6 1415.9 630.8 1419.1 629.3 1422.2 628.0 1425.0 624.4 1427.3 620.9 1429.4 615.9 1431.2 611.4 1433.1 605.6 1435.0 601.8 1436.9 592.4 1438.8 585.4 1440.6 577.1 1442.7 568.1 1445.0 562.9 1447.8 555.5 1450.9 553.6 1454.1 551.3 1457.2 546.6 1460.0 546.1 1462.3 547.1 1464.4 546.1 1466.2 546.2 1468.1 548.0 1470.0 549.6 1471.9 552.7 1473.8 555.0 1475.7 557.5 1477.7 560.7 1480.0 565.0 1482.6 570.4 1485.5 574.5 1488.5 579.9 1491.6 584.5 1494.6 588.7 1497.7 594.5 1500.9 601.4 1504.1 606.5 1507.0 610.5 1509.5 613.3 1511.5 616.6 1513.0 617.1 1514.4 617.0 1515.6 616.0 1517.0 614.8 1518.5 612.1 1519.9 608.8 1521.3 604.3 1522.8 600.0 1524.5 595.2 1526.4 590.4 1528.4 586.9 1530.5 583.5 1532.5 578.9 1534.4 575.4 1535.7 571.2 1536.4 564.3 1537.3 558.4 1539.0 556.2 1542.0 552.0 1547.2 550.8 1554.2 548.6 1561.8 551.2 1568.7 551.0 1574.0 550.9 1577.1 550.9 1578.7 551.2 1579.7 551.5 1580.5 553.1 1582.0 556.1 1584.3 564.6 1586.8 572.6 1589.5 582.7 1592.0 592.2 1594.0 597.7 1595.4 605.4 1596.4 608.9 1597.1 612.2 1597.9 615.0 1599.0 616.2 1600.4 619.3 1602.0 619.2 1603.6 619.4 1605.2 618.9 1606.6 618.1 1607.7 615.3 1608.5 609.4 1609.4 603.1 1610.3 599.8 1611.6 593.7 1613.2 592.6 1615.0 589.6 1617.0 587.2 1619.2 584.9 1621.6 582.4 1624.4 577.5 1627.6 570.0 1630.8 563.9 1633.9 558.5 1636.5 551.8 1638.4 548.0 1639.9 546.2 1641.2 544.8 1642.5 544.8 1644.0 544.4 1645.8 543.9 1647.8 545.9 1649.9 544.2 1652.0 546.3 1654.0 550.2 1656.1 550.2 1658.2 550.2 1660.4 551.0 1662.3 554.2 1664.0 557.4 1665.2 564.6 1666.1 573.8 1666.9 586.0 1667.8 596.0 1669.0 604.0 1670.5 609.3 1672.1 613.6 1673.9 615.9 1676.2 618.7 1679.0 618.4 1682.9 620.6 1687.8 623.0 1692.8 621.7 1697.5 622.0 1701.0 620.4 1703.0 617.9 1704.1 613.8 1704.6 607.7 1705.1 604.0 1706.0 599.3 1707.4 593.7 1708.9 589.6 1710.5 583.8 1712.2 578.5 1714.0 575.2 1715.6 570.1 1717.0 564.6 1718.7 559.6 1720.9 555.9 1724.0 553.2 1728.7 551.1 1734.6 549.9 1741.0 549.2 1746.7 550.8 1751.0 553.9 1753.3 559.7 1754.3 567.5 1754.7 577.2 1755.0 587.4 1756.0 594.4 1757.7 600.2 1759.6 603.1 1761.8 606.9 1763.9 612.5 1766.0 614.9 1768.0 617.6 1770.1 618.5 1772.2 618.6 1774.2 617.5 1776.0 613.5 1777.7 609.7 1779.3 600.4 1780.8 592.1 1782.2 582.8 1783.5 575.2 1784.4 569.6 1785.0 563.0 1785.6 558.2 1786.6 553.4 1788.5 549.7 1791.6 547.6 1795.7 542.6 1800.2 540.9 1804.5 538.3 1808.0 536.6 1810.6 535.7 1812.7 533.9 1814.5 535.3 1816.2 537.1 1818.0 536.4 1820.1 538.6 1822.2 540.2 1824.4 543.6 1826.3 545.6 1828.0 551.3 1829.4 554.3 1830.5 559.1 1831.4 567.7 1832.2 572.2 1833.0 575.4 1833.6 577.0 1834.0 576.4 1834.4 575.9 1835.0 575.9 1836.0 575.7 1837.4 576.1 1839.0 575.9 1840.9 575.9 1843.2 576.5 1846.0 577.9 1849.6 578.5 1854.0 577.4 1858.6 577.6 1862.8 578.8 1866.0 577.6 1868.0 575.7 1869.2 571.4 1869.9 569.2 1870.3 566.4 1870.7 565.2" class="iblk"/><path d="M911.0 538.1L911.9 551.0 913.2 561.1 914.7 574.5 916.4 584.8 918.0 597.5 919.6 608.9 921.3 613.0 923.0 623.8 924.9 630.7 927.0 633.1 929.4 639.5 932.2 642.2 935.0 648.6 937.7 648.8 940.0 646.5 941.7 643.6 942.9 632.7 944.1 622.8 945.3 608.2 947.0 599.9 949.2 594.3 951.7 586.9 954.4 578.3 957.2 573.5 960.0 565.3 963.0 563.0 966.1 557.2 969.3 556.9 972.3 554.0 975.0 553.5 977.3 556.1 979.3 562.1 981.1 561.7 983.0 566.6 985.0 572.7 987.3 572.8 989.8 578.2 992.2 577.3 994.7 578.7 997.0 581.1 999.2 586.6 1001.3 589.6 1003.3 595.0 1005.2 600.3 1007.0 601.9 1008.6 606.3 1009.9 612.6 1011.3 612.7 1012.7 611.6 1014.5 608.7 1016.8 599.6 1019.4 590.3 1022.2 576.3 1024.8 567.5 1027.0 558.4 1028.7 555.9 1030.1 556.3 1031.2 556.0 1032.5 559.2 1034.0 560.2 1035.8 561.5 1037.8 565.2 1039.9 562.9 1042.0 564.6 1044.0 569.0 1045.9 569.2 1047.8 569.9 1049.6 566.3 1051.7 564.4 1054.0 559.6 1056.8 559.6 1060.0 556.1 1063.3 550.0 1066.4 547.3 1069.0 546.8 1070.9 546.1 1072.4 539.7 1073.6 544.3 1075.1 546.4 1077.0 550.7 1079.5 561.3 1082.4 575.8 1085.5 588.9 1088.8 604.9 1092.0 612.8 1095.2 615.5 1098.5 618.4 1101.9 619.9 1105.4 614.3 1109.0 613.2 1112.9 612.1 1117.1 615.3 1121.4 608.2 1125.4 604.4 1129.0 599.3 1131.9 595.3 1134.3 589.6 1136.5 589.1 1138.8 585.3 1141.5 577.8 1144.7 575.5 1148.3 572.2 1151.9 569.6 1155.6 566.6 1159.0 564.8 1162.2 562.3 1165.4 559.1 1168.5 557.1 1171.4 550.9 1174.0 550.1 1176.3 551.4 1178.3 548.8 1180.1 547.5 1182.0 543.9 1184.0 544.0 1186.3 548.1 1188.8 547.5 1191.2 547.0 1193.7 548.6 1196.0 550.2 1198.2 559.9 1200.4 569.5 1202.5 580.1 1204.4 587.2 1206.0 595.3 1207.2 601.8 1208.0 613.6 1208.7 621.8 1209.6 624.2 1211.0 629.5 1213.1 630.5 1215.8 628.7 1218.6 623.4 1221.5 623.6 1224.0 621.5 1226.1 613.3 1228.0 608.0 1229.8 597.2 1231.8 598.0 1234.0 591.5 1236.7 587.0 1239.6 583.7 1242.7 580.8 1245.7 579.8 1248.6 577.5 1251.3 576.0 1253.8 575.1 1256.3 574.3 1258.7 575.3 1261.0 568.7 1263.2 568.7 1265.4 563.8 1267.5 559.3 1269.4 554.3 1271.0 557.0 1272.2 552.8 1273.0 551.6 1273.7 552.9 1274.6 551.9 1276.0 558.0 1278.1 566.7 1280.6 580.8 1283.4 595.3 1286.1 605.9 1288.5 619.5 1290.6 625.7 1292.5 632.7 1294.3 637.4 1296.1 642.5 1298.0 641.0 1299.8 642.9 1301.5 641.8 1303.3 635.3 1305.4 634.0 1308.0 624.3 1311.4 619.7 1315.5 611.2 1319.9 603.2 1324.2 595.0 1328.0 589.8 1331.5 585.6 1334.8 580.1 1338.0 579.1 1340.7 576.9 1343.0 569.4 1344.2 571.5 1344.5 569.9 1344.7 569.8 1345.6 573.3 1348.0 570.7 1352.6 567.4 1358.9 564.5 1365.9 559.4 1372.6 565.5 1378.0 566.5 1382.1 573.1 1385.5 579.6 1388.3 588.1 1390.8 596.5 1393.0 600.2 1394.9 604.4 1396.2 604.9 1397.4 608.4 1398.5 611.3 1400.0 610.6 1401.7 619.8 1403.5 619.6 1405.5 622.9 1407.6 631.0 1410.0 633.9 1412.8 630.1 1415.9 630.1 1419.1 635.0 1422.2 628.3 1425.0 622.3 1427.3 621.0 1429.4 620.8 1431.2 613.5 1433.1 607.9 1435.0 602.6 1436.9 594.6 1438.8 584.9 1440.6 574.5 1442.7 570.0 1445.0 561.2 1447.8 558.2 1450.9 557.3 1454.1 552.5 1457.2 549.6 1460.0 548.1 1462.3 548.4 1464.4 548.8 1466.2 546.0 1468.1 549.6 1470.0 553.7 1471.9 554.3 1473.8 554.4 1475.7 557.6 1477.7 558.9 1480.0 564.7 1482.6 572.9 1485.5 575.1 1488.5 579.0 1491.6 584.7 1494.6 590.5 1497.7 595.8 1500.9 601.0 1504.1 605.2 1507.0 611.2 1509.5 614.8 1511.5 612.4 1513.0 612.7 1514.4 615.2 1515.6 610.0 1517.0 609.9 1518.5 608.0 1519.9 605.7 1521.3 601.2 1522.8 596.3 1524.5 594.7 1526.4 589.0 1528.4 584.7 1530.5 580.6 1532.5 581.3 1534.4 573.2 1535.7 572.0 1536.4 567.1 1537.3 562.1 1539.0 556.0 1542.0 552.1 1547.2 551.4 1554.2 549.7 1561.8 548.8 1568.7 553.4 1574.0 550.6 1577.1 555.0 1578.7 553.0 1579.7 551.9 1580.5 555.0 1582.0 560.0 1584.3 562.4 1586.8 572.1 1589.5 581.9 1592.0 593.4 1594.0 601.2 1595.4 606.0 1596.4 609.0 1597.1 612.6 1597.9 617.9 1599.0 619.8 1600.4 619.9 1602.0 618.7 1603.6 622.1 1605.2 621.1 1606.6 619.4 1607.7 618.5 1608.5 612.2 1609.4 603.8 1610.3 598.4 1611.6 597.8 1613.2 593.0 1615.0 592.0 1617.0 588.6 1619.2 584.9 1621.6 583.5 1624.4 580.3 1627.6 571.8 1630.8 562.5 1633.9 557.4 1636.5 552.3 1638.4 550.4 1639.9 549.8 1641.2 550.2 1642.5 546.9 1644.0 545.5 1645.8 546.2 1647.8 546.6 1649.9 546.8 1652.0 548.6 1654.0 549.8 1656.1 548.6 1658.2 551.8 1660.4 551.2 1662.3 552.3 1664.0 558.9 1665.2 564.9 1666.1 578.7 1666.9 587.9 1667.8 597.8 1669.0 604.5 1670.5 610.4 1672.1 616.1 1673.9 616.2 1676.2 620.3 1679.0 617.1 1682.9 621.8 1687.8 622.7 1692.8 620.6 1697.5 618.3 1701.0 618.3 1703.0 612.9 1704.1 609.2 1704.6 606.8 1705.1 604.0 1706.0 598.4 1707.4 593.1 1708.9 589.4 1710.5 585.0 1712.2 577.7 1714.0 570.8 1715.6 569.0 1717.0 563.5 1718.7 560.3 1720.9 555.4 1724.0 553.2 1728.7 553.3 1734.6 551.3 1741.0 550.6 1746.7 554.3 1751.0 553.9 1753.3 560.0 1754.3 571.2 1754.7 577.1 1755.0 585.6 1756.0 597.8 1757.7 602.0 1759.6 607.2 1761.8 611.2 1763.9 614.8 1766.0 615.0 1768.0 617.6 1770.1 617.3 1772.2 619.8 1774.2 619.0 1776.0 615.0 1777.7 611.2 1779.3 606.8 1780.8 591.0 1782.2 585.1 1783.5 577.7 1784.4 571.8 1785.0 563.3 1785.6 561.6 1786.6 556.3 1788.5 551.0 1791.6 546.9 1795.7 544.5 1800.2 542.7 1804.5 540.3 1808.0 540.9 1810.6 535.7 1812.7 537.0 1814.5 535.6 1816.2 538.4 1818.0 538.6 1820.1 539.2 1822.2 540.4 1824.4 544.2 1826.3 549.4 1828.0 555.5 1829.4 559.6 1830.5 562.7 1831.4 570.2 1832.2 576.7 1833.0 580.6 1833.6 582.8 1834.0 584.4 1834.4 583.1 1835.0 581.3 1836.0 579.9 1837.4 583.9 1839.0 583.5 1840.9 588.0 1843.2 590.8 1846.0 589.6 1849.6 592.0 1854.0 589.9 1858.6 590.0 1862.8 584.2 1866.0 577.7 1868.0 578.7 1869.2 575.6 1869.9 571.4 1870.3 568.3 1870.7 568.0" class="ired"/>
<rect x="910" y="528.5" width="962" height="123.0" fill="none" stroke="#111" stroke-width="4" stroke-dasharray="17 15"/>
<rect x="595.5" y="170" width="38.5" height="267" fill="none" stroke="#111" stroke-width="4" stroke-dasharray="17 15"/>
<path d="M616 438L910 588.5M887 555L910 588.5L869 591" stroke="#6a9fd4" stroke-width="2.2" fill="none"/>
<text x="1222" y="1002" text-anchor="middle" class="cap">(a)</text>
<path d="M326.0 1212.4h20M2353.0 1212.4h-20M326.0 1334.2h20M2353.0 1334.2h-20M326.0 1456.1h20M2353.0 1456.1h-20M326.0 1577.9h20M2353.0 1577.9h-20M1001.7 1699.7v-20M1001.7 1090.6v20M1677.3 1699.7v-20M1677.3 1090.6v20" stroke="#9a9a9a" stroke-width="2" fill="none"/>
<rect x="326.0" y="1090.6" width="2027.0" height="609.1" fill="none" stroke="#9a9a9a" stroke-width="2.4"/>
<text x="306.0" y="1116.1" text-anchor="end" class="tk">0.937</text>
<text x="306.0" y="1237.9" text-anchor="end" class="tk">0.935</text>
<text x="306.0" y="1359.7" text-anchor="end" class="tk">0.933</text>
<text x="306.0" y="1481.6" text-anchor="end" class="tk">0.931</text>
<text x="306.0" y="1603.4" text-anchor="end" class="tk">0.929</text>
<text x="306.0" y="1725.2" text-anchor="end" class="tk">0.927</text>
<text x="326.0" y="1787.7" text-anchor="middle" class="tk">9</text>
<text x="1001.7" y="1787.7" text-anchor="middle" class="tk">10</text>
<text x="1677.3" y="1787.7" text-anchor="middle" class="tk">11</text>
<text x="2353.0" y="1787.7" text-anchor="middle" class="tk">12</text>
<text x="1339.5" y="1881.0" text-anchor="middle" class="lab">Month</text>
<text transform="translate(109.5 1395.2) rotate(-90)" text-anchor="middle" class="lab">Frequency(Hz)</text>
<rect x="1090.5" y="1118.7" width="1180.5" height="92.29999999999995" fill="#fff" stroke="#a8a8a8" stroke-width="2.4"/>
<line x1="1102" y1="1165" x2="1191" y2="1165" stroke="#555" stroke-width="2.2"/>
<text x="1198" y="1191" class="lg">Measured CFF</text>
<line x1="1668" y1="1165" x2="1759" y2="1165" stroke="#f03a3a" stroke-width="2" stroke-dasharray="3 5" opacity="0.7"/>
<text x="1768" y="1191" class="lg">Prediction Value</text>
<rect x="947.5" y="1513.7" width="982.5" height="162" fill="#fff"/>
<path d="M947.4 1603.8L948.4 1608.8 949.9 1611.8 951.6 1620.9 953.3 1628.3 955.0 1633.1 956.5 1634.9 958.0 1636.8 959.6 1636.0 961.2 1635.5 963.0 1633.7 965.1 1630.6 967.5 1627.8 969.9 1625.0 972.1 1619.4 974.0 1615.0 975.3 1607.6 976.3 1599.0 977.1 1587.8 977.9 1579.2 979.0 1568.3 980.5 1559.5 982.1 1551.0 983.9 1542.4 985.5 1533.5 987.0 1528.1 988.1 1526.6 989.1 1524.1 989.9 1525.7 990.9 1526.7 992.0 1529.7 993.4 1535.3 995.0 1544.1 996.7 1552.5 998.4 1562.5 1000.0 1568.6 1001.6 1573.6 1003.2 1576.4 1004.8 1580.3 1006.4 1583.8 1008.0 1589.3 1009.5 1601.8 1011.0 1613.2 1012.4 1627.3 1014.1 1640.0 1016.0 1649.4 1018.4 1651.7 1021.1 1653.2 1023.9 1651.3 1026.6 1647.4 1029.0 1646.0 1030.9 1642.4 1032.4 1636.4 1033.9 1630.6 1035.3 1622.6 1037.0 1615.2 1039.0 1607.7 1041.1 1599.2 1043.4 1588.3 1045.5 1578.9 1047.5 1569.8 1049.3 1559.2 1051.1 1549.1 1052.7 1539.8 1054.2 1529.1 1055.4 1524.6 1056.1 1518.8 1056.4 1518.7 1056.6 1518.4 1057.1 1519.6 1058.0 1523.1 1059.6 1531.0 1061.7 1540.9 1064.0 1553.0 1066.4 1563.7 1068.6 1574.7 1070.8 1581.4 1073.0 1589.1 1075.2 1595.7 1077.2 1603.3 1079.0 1607.3 1080.4 1615.0 1081.5 1623.4 1082.5 1628.7 1083.4 1633.5 1084.4 1637.7 1085.5 1636.9 1086.5 1634.7 1087.6 1629.0 1088.6 1626.2 1089.7 1624.9 1090.7 1627.3 1091.6 1630.2 1092.5 1637.1 1093.6 1638.1 1095.0 1636.3 1096.8 1629.9 1099.0 1619.8 1101.2 1606.5 1103.5 1593.9 1105.5 1582.4 1107.3 1572.0 1109.0 1561.3 1110.6 1553.3 1112.0 1541.9 1113.4 1536.0 1114.5 1533.0 1115.3 1530.1 1116.1 1528.3 1117.1 1530.1 1118.6 1531.4 1120.9 1532.3 1123.7 1538.4 1126.7 1543.2 1129.5 1548.3 1131.8 1552.6 1133.3 1559.4 1134.2 1565.5 1134.9 1574.2 1135.7 1581.5 1137.0 1590.3 1138.7 1598.4 1140.6 1609.1 1142.7 1618.4 1145.1 1627.0 1147.6 1630.7 1150.5 1634.5 1153.8 1639.0 1157.2 1639.2 1160.5 1638.9 1163.4 1635.2 1165.9 1628.1 1168.1 1618.5 1170.2 1606.3 1172.1 1593.8 1174.0 1581.3 1175.8 1572.0 1177.4 1558.7 1178.9 1547.8 1180.5 1537.1 1182.0 1530.5 1183.5 1525.3 1185.0 1523.3 1186.5 1523.1 1188.1 1523.8 1189.8 1526.5 1191.7 1531.2 1193.8 1537.4 1196.0 1544.1 1198.1 1554.8 1200.0 1560.2 1201.7 1569.4 1203.1 1581.2 1204.5 1588.5 1206.1 1598.8 1208.0 1606.5 1210.4 1612.0 1213.1 1616.0 1215.9 1620.1 1218.6 1625.4 1221.0 1629.9 1222.9 1632.6 1224.6 1639.4 1226.0 1643.4 1227.5 1648.6 1229.0 1650.8 1230.6 1651.7 1232.2 1652.9 1233.8 1653.3 1235.4 1653.5 1237.0 1653.1 1238.6 1648.3 1240.2 1644.5 1241.8 1640.6 1243.4 1635.1 1245.0 1630.2 1246.6 1624.4 1248.2 1618.3 1249.8 1611.1 1251.4 1604.3 1253.0 1595.8 1254.6 1583.1 1256.1 1569.5 1257.6 1553.8 1259.2 1539.3 1261.0 1531.0 1263.0 1523.0 1265.1 1521.8 1267.3 1521.5 1269.5 1520.7 1271.4 1523.0 1273.0 1528.2 1274.4 1535.5 1275.7 1542.8 1277.1 1550.3 1279.0 1556.8 1281.4 1560.1 1284.2 1561.4 1287.2 1564.1 1290.1 1566.3 1292.5 1567.9 1294.4 1572.9 1295.9 1575.8 1297.3 1581.1 1298.7 1583.9 1300.4 1589.4 1302.4 1594.8 1304.6 1603.5 1306.8 1610.4 1309.0 1617.1 1311.0 1623.0 1312.8 1628.0 1314.4 1633.5 1315.9 1636.3 1317.4 1641.5 1318.9 1642.5 1320.5 1642.5 1322.1 1640.3 1323.6 1639.3 1325.2 1633.7 1326.8 1625.9 1328.4 1617.9 1330.1 1604.7 1331.7 1590.2 1333.3 1578.2 1334.7 1568.4 1335.8 1561.7 1336.6 1559.3 1337.5 1559.3 1338.5 1558.1 1340.0 1556.2 1342.1 1552.6 1344.8 1550.5 1347.6 1548.6 1350.4 1547.0 1353.0 1544.3 1355.4 1543.1 1357.7 1544.0 1359.8 1542.8 1361.9 1543.0 1363.6 1544.4 1365.1 1547.4 1366.3 1553.0 1367.3 1557.3 1368.2 1562.0 1369.0 1568.0 1369.5 1578.9 1369.7 1589.3 1369.9 1599.9 1370.4 1609.6 1371.5 1614.9 1373.5 1619.8 1376.3 1623.5 1379.3 1623.9 1382.2 1625.3 1384.7 1626.6 1386.7 1630.1 1388.4 1635.8 1389.9 1639.5 1391.3 1642.8 1392.6 1643.0 1393.8 1640.0 1394.8 1635.5 1395.8 1628.6 1396.8 1617.6 1398.0 1608.3 1399.4 1594.6 1401.1 1579.1 1402.8 1560.2 1404.4 1546.3 1405.8 1535.4 1407.0 1529.8 1407.9 1526.8 1408.8 1528.0 1409.8 1529.2 1411.0 1532.3 1412.3 1534.8 1413.8 1535.8 1415.3 1540.2 1417.0 1545.2 1419.0 1550.2 1421.4 1558.4 1424.1 1565.1 1426.9 1573.8 1429.6 1580.5 1432.0 1588.7 1433.9 1591.7 1435.4 1594.9 1436.9 1596.4 1438.3 1596.5 1440.0 1599.3 1441.9 1602.4 1443.9 1606.7 1446.0 1609.0 1448.2 1613.0 1450.5 1616.6 1452.9 1621.5 1455.5 1628.2 1458.1 1633.5 1460.9 1636.7 1463.7 1639.5 1466.8 1640.4 1470.2 1635.3 1473.6 1632.7 1476.8 1627.1 1479.5 1618.5 1481.5 1611.0 1483.0 1599.5 1484.2 1590.3 1485.6 1578.2 1487.4 1568.0 1489.8 1558.9 1492.6 1548.5 1495.4 1539.0 1498.2 1532.7 1500.6 1529.4 1502.5 1530.9 1504.0 1538.0 1505.4 1547.5 1506.8 1555.0 1508.5 1563.2 1510.4 1572.0 1512.5 1583.2 1514.7 1592.8 1516.9 1602.7 1519.0 1609.4 1521.1 1617.1 1523.2 1623.2 1525.4 1630.2 1527.5 1633.7 1529.6 1635.5 1531.8 1640.9 1534.0 1644.0 1536.2 1645.6 1538.2 1642.4 1540.0 1642.9 1541.4 1639.0 1542.5 1632.0 1543.5 1623.4 1544.4 1614.1 1545.4 1608.2 1546.4 1602.3 1547.2 1597.4 1548.2 1592.1 1549.2 1586.4 1550.6 1582.7 1552.3 1576.9 1554.4 1573.2 1556.6 1570.1 1558.8 1567.3 1561.0 1563.5 1563.1 1561.7 1565.3 1558.0 1567.4 1554.3 1569.6 1553.4 1571.7 1552.3 1573.8 1553.3 1575.8 1555.2 1577.9 1560.7 1579.9 1564.6 1582.0 1567.7 1584.0 1576.5 1586.0 1584.5 1588.1 1592.2 1590.3 1601.5 1592.8 1610.3 1595.7 1615.3 1598.9 1621.6 1602.2 1627.8 1605.5 1630.8 1608.6 1634.0 1611.5 1636.4 1614.3 1639.4 1617.0 1640.8 1619.5 1638.1 1621.8 1633.9 1623.7 1628.0 1625.2 1617.4 1626.6 1606.4 1628.1 1593.5 1629.7 1581.9 1631.6 1570.0 1633.8 1556.8 1635.9 1543.3 1638.0 1532.6 1640.0 1528.3 1641.7 1527.6 1643.2 1527.6 1644.7 1529.5 1646.3 1536.5 1648.0 1543.7 1649.9 1549.5 1651.9 1560.8 1654.0 1571.9 1656.3 1581.7 1658.6 1589.4 1661.1 1595.3 1663.7 1596.4 1666.4 1597.8 1669.1 1600.3 1671.8 1600.0 1674.4 1601.4 1677.1 1605.6 1679.7 1609.1 1682.4 1610.5 1685.0 1614.3 1687.7 1618.1 1690.6 1624.7 1693.4 1633.3 1695.9 1639.2 1698.0 1643.3 1699.5 1645.8 1700.6 1648.1 1701.4 1650.0 1702.3 1650.6 1703.4 1651.2 1704.8 1647.9 1706.4 1644.8 1708.0 1641.0 1709.7 1635.0 1711.3 1627.1 1712.8 1617.3 1714.3 1604.3 1715.8 1589.3 1717.4 1578.4 1719.2 1568.7 1721.2 1562.5 1723.3 1558.7 1725.5 1555.4 1727.7 1555.1 1729.8 1552.9 1731.9 1552.1 1733.9 1551.8 1735.9 1551.9 1737.9 1554.7 1740.0 1559.1 1742.1 1566.5 1744.3 1575.7 1746.5 1587.1 1748.6 1598.6 1750.8 1608.5 1752.9 1614.6 1754.9 1622.3 1757.0 1628.1 1759.1 1633.3 1761.4 1636.7 1764.0 1641.1 1766.7 1643.2 1769.6 1644.6 1772.3 1641.5 1774.6 1636.9 1776.5 1627.6 1778.1 1615.3 1779.6 1599.5 1781.0 1581.9 1782.5 1569.5 1784.1 1559.1 1785.7 1545.3 1787.3 1535.8 1788.8 1528.6 1790.4 1522.2 1791.9 1517.0 1793.3 1516.9 1794.7 1516.5 1796.3 1518.9 1798.0 1523.0 1800.0 1534.7 1802.2 1551.6 1804.5 1568.3 1806.8 1584.5 1808.8 1595.2 1810.5 1602.7 1812.1 1604.1 1813.5 1605.8 1815.0 1605.5 1816.7 1605.2 1818.6 1608.2 1820.5 1606.4 1822.5 1607.1 1824.7 1608.8 1827.0 1609.9 1829.6 1614.1 1832.4 1621.7 1835.3 1628.2 1838.0 1634.0 1840.4 1637.9 1842.3 1640.4 1843.8 1638.2 1845.2 1638.7 1846.6 1633.2 1848.3 1626.9 1850.2 1614.9 1852.2 1602.3 1854.4 1588.8 1856.6 1575.0 1858.9 1563.1 1861.4 1556.6 1864.2 1551.6 1867.0 1546.6 1869.7 1543.1 1872.0 1541.9 1873.9 1541.4 1875.4 1541.6 1876.9 1543.0 1878.3 1544.6 1880.0 1550.6 1882.0 1559.3 1884.3 1571.9 1886.6 1586.4 1888.7 1599.5 1890.5 1608.1 1891.8 1615.1 1892.8 1620.5 1893.7 1624.8 1894.6 1627.6 1895.7 1629.4 1897.1 1628.7 1898.5 1625.5 1900.1 1621.9 1901.8 1619.9 1903.6 1620.9 1905.6 1620.8 1907.8 1623.6 1910.1 1627.0 1912.2 1630.7 1914.0 1636.6 1915.4 1640.1 1916.4 1646.4 1917.4 1652.7 1918.3 1658.3 1919.5 1657.8 1921.0 1653.0 1922.7 1643.9 1924.5 1632.4 1926.1 1622.6 1927.4 1612.4 1928.3 1609.1 1928.9 1599.4 1929.4 1595.7 1929.7 1592.9 1930.0 1590.3" class="iblk"/><path d="M947.4 1603.4L948.4 1608.8 949.9 1615.1 951.6 1622.2 953.3 1629.4 955.0 1633.4 956.5 1635.2 958.0 1636.4 959.6 1638.2 961.2 1635.8 963.0 1635.5 965.1 1635.0 967.5 1630.1 969.9 1627.6 972.1 1620.2 974.0 1615.4 975.3 1608.4 976.3 1598.9 977.1 1589.6 977.9 1581.3 979.0 1569.5 980.5 1560.1 982.1 1552.4 983.9 1540.9 985.5 1535.8 987.0 1532.4 988.1 1527.3 989.1 1526.6 989.9 1526.4 990.9 1529.3 992.0 1531.3 993.4 1536.5 995.0 1539.0 996.7 1552.8 998.4 1563.8 1000.0 1569.8 1001.6 1573.6 1003.2 1579.4 1004.8 1579.4 1006.4 1584.1 1008.0 1592.1 1009.5 1600.3 1011.0 1614.7 1012.4 1628.3 1014.1 1638.7 1016.0 1648.1 1018.4 1652.1 1021.1 1652.5 1023.9 1653.9 1026.6 1649.5 1029.0 1645.3 1030.9 1640.3 1032.4 1637.0 1033.9 1633.6 1035.3 1624.2 1037.0 1618.5 1039.0 1609.7 1041.1 1598.7 1043.4 1588.0 1045.5 1580.4 1047.5 1567.2 1049.3 1560.9 1051.1 1547.7 1052.7 1540.9 1054.2 1530.4 1055.4 1524.8 1056.1 1522.9 1056.4 1517.7 1056.6 1519.2 1057.1 1520.5 1058.0 1525.7 1059.6 1533.2 1061.7 1542.6 1064.0 1554.2 1066.4 1564.7 1068.6 1576.2 1070.8 1582.8 1073.0 1590.5 1075.2 1597.2 1077.2 1601.0 1079.0 1607.6 1080.4 1616.6 1081.5 1623.4 1082.5 1632.1 1083.4 1631.5 1084.4 1638.8 1085.5 1639.8 1086.5 1635.1 1087.6 1632.0 1088.6 1627.0 1089.7 1625.3 1090.7 1628.8 1091.6 1629.9 1092.5 1633.3 1093.6 1640.6 1095.0 1638.6 1096.8 1631.7 1099.0 1621.1 1101.2 1608.7 1103.5 1593.7 1105.5 1583.7 1107.3 1573.2 1109.0 1560.6 1110.6 1552.6 1112.0 1545.0 1113.4 1537.1 1114.5 1536.0 1115.3 1531.6 1116.1 1532.6 1117.1 1534.0 1118.6 1530.6 1120.9 1533.1 1123.7 1539.6 1126.7 1542.9 1129.5 1549.1 1131.8 1556.7 1133.3 1559.5 1134.2 1568.8 1134.9 1574.6 1135.7 1582.0 1137.0 1591.7 1138.7 1600.1 1140.6 1611.0 1142.7 1619.2 1145.1 1628.3 1147.6 1633.6 1150.5 1633.7 1153.8 1637.6 1157.2 1637.0 1160.5 1636.4 1163.4 1629.3 1165.9 1624.8 1168.1 1614.7 1170.2 1601.5 1172.1 1592.7 1174.0 1583.1 1175.8 1570.6 1177.4 1560.8 1178.9 1548.3 1180.5 1538.2 1182.0 1529.7 1183.5 1525.9 1185.0 1524.9 1186.5 1524.0 1188.1 1523.4 1189.8 1527.7 1191.7 1532.9 1193.8 1540.2 1196.0 1547.2 1198.1 1552.4 1200.0 1563.1 1201.7 1568.1 1203.1 1579.2 1204.5 1588.7 1206.1 1601.6 1208.0 1608.1 1210.4 1613.6 1213.1 1617.1 1215.9 1624.3 1218.6 1625.9 1221.0 1631.0 1222.9 1636.3 1224.6 1638.3 1226.0 1643.5 1227.5 1642.5 1229.0 1648.3 1230.6 1645.3 1232.2 1649.0 1233.8 1648.8 1235.4 1648.8 1237.0 1651.1 1238.6 1641.9 1240.2 1644.1 1241.8 1639.1 1243.4 1636.6 1245.0 1630.8 1246.6 1625.1 1248.2 1618.4 1249.8 1611.6 1251.4 1605.7 1253.0 1593.6 1254.6 1585.7 1256.1 1568.3 1257.6 1554.7 1259.2 1538.5 1261.0 1531.3 1263.0 1524.5 1265.1 1523.0 1267.3 1522.9 1269.5 1521.0 1271.4 1524.2 1273.0 1528.8 1274.4 1537.7 1275.7 1541.3 1277.1 1552.0 1279.0 1557.0 1281.4 1558.9 1284.2 1562.8 1287.2 1564.2 1290.1 1569.0 1292.5 1568.5 1294.4 1575.2 1295.9 1576.6 1297.3 1582.6 1298.7 1583.3 1300.4 1589.8 1302.4 1597.1 1304.6 1602.0 1306.8 1607.8 1309.0 1617.0 1311.0 1624.0 1312.8 1628.3 1314.4 1633.4 1315.9 1639.2 1317.4 1641.5 1318.9 1645.3 1320.5 1645.5 1322.1 1640.2 1323.6 1640.9 1325.2 1635.6 1326.8 1628.5 1328.4 1619.5 1330.1 1608.0 1331.7 1595.1 1333.3 1582.1 1334.7 1569.7 1335.8 1566.7 1336.6 1558.9 1337.5 1561.4 1338.5 1560.0 1340.0 1558.7 1342.1 1553.2 1344.8 1554.3 1347.6 1551.6 1350.4 1547.9 1353.0 1543.8 1355.4 1545.5 1357.7 1542.8 1359.8 1541.3 1361.9 1543.2 1363.6 1549.8 1365.1 1546.6 1366.3 1552.3 1367.3 1557.9 1368.2 1564.9 1369.0 1568.5 1369.5 1577.0 1369.7 1590.5 1369.9 1600.4 1370.4 1611.9 1371.5 1615.6 1373.5 1621.6 1376.3 1625.5 1379.3 1625.4 1382.2 1624.3 1384.7 1628.2 1386.7 1628.6 1388.4 1635.1 1389.9 1642.1 1391.3 1645.2 1392.6 1644.4 1393.8 1641.9 1394.8 1633.2 1395.8 1627.4 1396.8 1621.3 1398.0 1613.1 1399.4 1596.8 1401.1 1578.0 1402.8 1560.5 1404.4 1548.5 1405.8 1537.5 1407.0 1528.4 1407.9 1528.7 1408.8 1531.4 1409.8 1533.3 1411.0 1532.1 1412.3 1534.8 1413.8 1538.7 1415.3 1540.0 1417.0 1543.8 1419.0 1550.5 1421.4 1560.1 1424.1 1567.9 1426.9 1575.3 1429.6 1580.5 1432.0 1585.3 1433.9 1590.9 1435.4 1595.3 1436.9 1598.9 1438.3 1597.7 1440.0 1601.6 1441.9 1601.5 1443.9 1603.9 1446.0 1610.3 1448.2 1611.7 1450.5 1615.6 1452.9 1618.6 1455.5 1629.6 1458.1 1631.4 1460.9 1638.9 1463.7 1638.4 1466.8 1639.3 1470.2 1639.1 1473.6 1632.8 1476.8 1626.7 1479.5 1621.2 1481.5 1612.3 1483.0 1603.6 1484.2 1588.1 1485.6 1581.8 1487.4 1569.9 1489.8 1558.4 1492.6 1550.7 1495.4 1541.2 1498.2 1533.3 1500.6 1531.7 1502.5 1530.2 1504.0 1535.5 1505.4 1545.5 1506.8 1557.5 1508.5 1565.5 1510.4 1573.6 1512.5 1582.6 1514.7 1593.8 1516.9 1605.4 1519.0 1611.0 1521.1 1617.9 1523.2 1625.6 1525.4 1631.1 1527.5 1634.5 1529.6 1639.8 1531.8 1640.2 1534.0 1640.0 1536.2 1638.7 1538.2 1643.6 1540.0 1639.5 1541.4 1635.9 1542.5 1629.6 1543.5 1623.3 1544.4 1615.1 1545.4 1608.4 1546.4 1601.7 1547.2 1595.7 1548.2 1591.5 1549.2 1585.1 1550.6 1582.8 1552.3 1580.0 1554.4 1575.7 1556.6 1571.3 1558.8 1566.4 1561.0 1563.4 1563.1 1560.6 1565.3 1558.0 1567.4 1556.8 1569.6 1555.1 1571.7 1554.9 1573.8 1556.8 1575.8 1555.8 1577.9 1560.3 1579.9 1565.7 1582.0 1571.3 1584.0 1575.6 1586.0 1583.6 1588.1 1595.4 1590.3 1603.2 1592.8 1610.2 1595.7 1615.6 1598.9 1620.8 1602.2 1627.9 1605.5 1633.1 1608.6 1636.8 1611.5 1639.9 1614.3 1640.7 1617.0 1643.1 1619.5 1639.3 1621.8 1636.6 1623.7 1629.0 1625.2 1615.9 1626.6 1604.8 1628.1 1593.8 1629.7 1583.3 1631.6 1571.5 1633.8 1559.8 1635.9 1545.0 1638.0 1534.0 1640.0 1528.5 1641.7 1524.2 1643.2 1527.4 1644.7 1530.1 1646.3 1537.5 1648.0 1542.6 1649.9 1551.0 1651.9 1565.1 1654.0 1575.0 1656.3 1587.3 1658.6 1591.3 1661.1 1595.1 1663.7 1596.5 1666.4 1598.8 1669.1 1597.1 1671.8 1601.7 1674.4 1602.9 1677.1 1603.9 1679.7 1605.5 1682.4 1609.8 1685.0 1614.3 1687.7 1620.0 1690.6 1623.8 1693.4 1632.9 1695.9 1639.6 1698.0 1647.3 1699.5 1647.8 1700.6 1651.4 1701.4 1650.6 1702.3 1652.4 1703.4 1650.5 1704.8 1648.2 1706.4 1646.9 1708.0 1641.1 1709.7 1637.7 1711.3 1627.9 1712.8 1618.6 1714.3 1603.3 1715.8 1590.2 1717.4 1580.5 1719.2 1568.9 1721.2 1565.8 1723.3 1558.2 1725.5 1555.4 1727.7 1558.2 1729.8 1551.3 1731.9 1552.2 1733.9 1553.3 1735.9 1554.0 1737.9 1553.4 1740.0 1562.9 1742.1 1566.3 1744.3 1574.2 1746.5 1590.3 1748.6 1599.4 1750.8 1609.6 1752.9 1618.3 1754.9 1622.6 1757.0 1628.8 1759.1 1634.7 1761.4 1639.8 1764.0 1639.3 1766.7 1646.2 1769.6 1645.4 1772.3 1641.5 1774.6 1638.6 1776.5 1629.7 1778.1 1617.0 1779.6 1600.5 1781.0 1585.2 1782.5 1569.8 1784.1 1559.5 1785.7 1542.9 1787.3 1538.6 1788.8 1528.5 1790.4 1525.1 1791.9 1517.8 1793.3 1515.9 1794.7 1516.8 1796.3 1520.6 1798.0 1525.5 1800.0 1537.5 1802.2 1551.6 1804.5 1570.6 1806.8 1589.4 1808.8 1598.4 1810.5 1603.5 1812.1 1603.0 1813.5 1607.1 1815.0 1608.0 1816.7 1606.7 1818.6 1609.7 1820.5 1604.9 1822.5 1607.7 1824.7 1608.3 1827.0 1612.9 1829.6 1615.2 1832.4 1621.3 1835.3 1631.9 1838.0 1632.9 1840.4 1639.3 1842.3 1641.4 1843.8 1639.1 1845.2 1636.3 1846.6 1633.8 1848.3 1627.1 1850.2 1616.8 1852.2 1604.9 1854.4 1589.5 1856.6 1580.6 1858.9 1566.9 1861.4 1557.7 1864.2 1552.9 1867.0 1550.8 1869.7 1547.3 1872.0 1543.8 1873.9 1541.4 1875.4 1545.2 1876.9 1543.5 1878.3 1546.8 1880.0 1553.8 1882.0 1560.9 1884.3 1575.0 1886.6 1586.2 1888.7 1599.8 1890.5 1609.2 1891.8 1620.0 1892.8 1619.8 1893.7 1625.9 1894.6 1627.6 1895.7 1629.4 1897.1 1627.9 1898.5 1625.8 1900.1 1625.2 1901.8 1622.2 1903.6 1617.0 1905.6 1615.9 1907.8 1617.5 1910.1 1621.8 1912.2 1621.0 1914.0 1620.7 1915.4 1630.7 1916.4 1636.3 1917.4 1644.6 1918.3 1649.5 1919.5 1648.4 1921.0 1649.0 1922.7 1641.4 1924.5 1630.0 1926.1 1617.7 1927.4 1611.5 1928.3 1605.4 1928.9 1602.9 1929.4 1596.1 1929.7 1592.6 1930.0 1590.5" class="ired"/>
<rect x="947.5" y="1513.7" width="982.5" height="162.0" fill="none" stroke="#111" stroke-width="3.5" stroke-dasharray="17 15"/>
<rect x="614" y="1231.6" width="41.5" height="303.10000000000014" fill="none" stroke="#111" stroke-width="3.5" stroke-dasharray="17 15"/>
<path d="M617 1536L947 1595.5M918 1570L947 1595.5L909 1610" stroke="#111" stroke-width="2.2" fill="none"/>
<text x="1222" y="2016.6" text-anchor="middle" class="cap">(b)</text>
</svg></body></html>
